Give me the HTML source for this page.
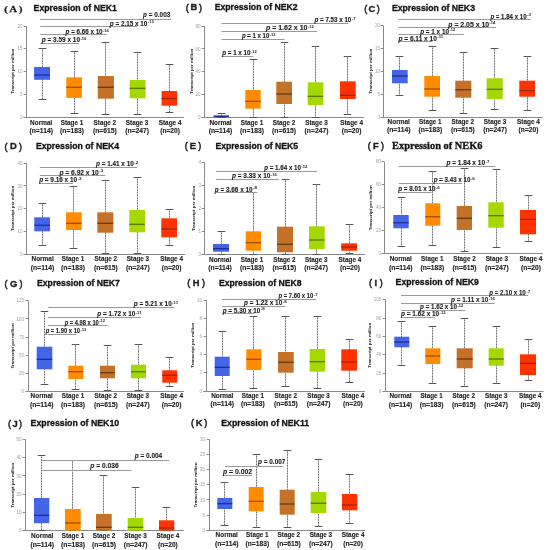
<!DOCTYPE html>
<html><head><meta charset="utf-8"><style>
html,body{margin:0;padding:0;background:#fff;}
body{width:549px;height:550px;overflow:hidden;}
svg{display:block;will-change:transform;filter:blur(0.3px);}
</style></head><body>
<svg width="549" height="550" viewBox="0 0 549 550">
<rect width="549" height="550" fill="#fff"/>
<text x="4.2" y="11.9" font-family='"Liberation Serif", serif' font-weight="bold" font-size="9" textLength="18.3" lengthAdjust="spacingAndGlyphs" fill="#1e1e1e" stroke="#1e1e1e" stroke-width="0.3">( A )</text>
<text x="33.6" y="10.8" font-family='"Liberation Sans", sans-serif' font-weight="bold" font-size="9.5" textLength="83.3" lengthAdjust="spacingAndGlyphs" fill="#111" stroke="#111" stroke-width="0.32">Expression of NEK1</text>
<line x1="26.5" y1="26.1" x2="26.5" y2="117.5" stroke="#8a8a8a" stroke-width="1"/>
<line x1="23.7" y1="117.5" x2="26.5" y2="117.5" stroke="#8a8a8a" stroke-width="1"/>
<text x="22.4" y="118.7" text-anchor="end" font-family='"Liberation Sans", sans-serif' font-size="4.5" fill="#a0a0a0">0</text>
<line x1="23.7" y1="94.5" x2="26.5" y2="94.5" stroke="#8a8a8a" stroke-width="1"/>
<text x="22.4" y="95.95" text-anchor="end" font-family='"Liberation Sans", sans-serif' font-size="4.5" fill="#a0a0a0">5</text>
<line x1="23.7" y1="71.5" x2="26.5" y2="71.5" stroke="#8a8a8a" stroke-width="1"/>
<text x="22.4" y="73.2" text-anchor="end" font-family='"Liberation Sans", sans-serif' font-size="4.5" fill="#a0a0a0">10</text>
<line x1="23.7" y1="48.5" x2="26.5" y2="48.5" stroke="#8a8a8a" stroke-width="1"/>
<text x="22.4" y="50.45" text-anchor="end" font-family='"Liberation Sans", sans-serif' font-size="4.5" fill="#a0a0a0">15</text>
<line x1="23.7" y1="26.5" x2="26.5" y2="26.5" stroke="#8a8a8a" stroke-width="1"/>
<text x="22.4" y="27.7" text-anchor="end" font-family='"Liberation Sans", sans-serif' font-size="4.5" fill="#a0a0a0">20</text>
<text transform="translate(14,71.2) rotate(-90)" text-anchor="middle" font-family='"Liberation Sans", sans-serif' font-weight="bold" font-size="4.4" textLength="45" lengthAdjust="spacingAndGlyphs" fill="#2a2a2a">Transcript per million</text>
<line x1="23.5" y1="117.5" x2="184" y2="117.5" stroke="#8a8a8a" stroke-width="1"/>
<line x1="42.5" y1="48.5" x2="42.5" y2="99.5" stroke="#5a5a5a" stroke-width="1" stroke-dasharray="1 0.6"/>
<line x1="38.7" y1="48.5" x2="46.3" y2="48.5" stroke="#555" stroke-width="1"/>
<line x1="38.7" y1="99.5" x2="46.3" y2="99.5" stroke="#555" stroke-width="1"/>
<rect x="34.1" y="67" width="15.9" height="12.8" fill="#4565e8"/>
<line x1="34.1" y1="75" x2="50" y2="75" stroke="#1f2f8f" stroke-width="1.3"/>
<line x1="74.5" y1="51.5" x2="74.5" y2="113.5" stroke="#5a5a5a" stroke-width="1" stroke-dasharray="1 0.6"/>
<line x1="70.7" y1="51.5" x2="78.3" y2="51.5" stroke="#555" stroke-width="1"/>
<line x1="70.7" y1="113.5" x2="78.3" y2="113.5" stroke="#555" stroke-width="1"/>
<rect x="66.3" y="77.3" width="15.6" height="20.6" fill="#ff8c00"/>
<line x1="66.3" y1="87.3" x2="81.9" y2="87.3" stroke="#9a4f00" stroke-width="1.3"/>
<line x1="105.5" y1="42.5" x2="105.5" y2="114.5" stroke="#5a5a5a" stroke-width="1" stroke-dasharray="1 0.6"/>
<line x1="101.7" y1="42.5" x2="109.3" y2="42.5" stroke="#555" stroke-width="1"/>
<line x1="101.7" y1="114.5" x2="109.3" y2="114.5" stroke="#555" stroke-width="1"/>
<rect x="97.8" y="76" width="16.1" height="22.7" fill="#c4722a"/>
<line x1="97.8" y1="87.3" x2="113.9" y2="87.3" stroke="#6a3810" stroke-width="1.3"/>
<line x1="137.5" y1="52.5" x2="137.5" y2="114.5" stroke="#5a5a5a" stroke-width="1" stroke-dasharray="1 0.6"/>
<line x1="133.7" y1="52.5" x2="141.3" y2="52.5" stroke="#555" stroke-width="1"/>
<line x1="133.7" y1="114.5" x2="141.3" y2="114.5" stroke="#555" stroke-width="1"/>
<rect x="129.7" y="80" width="15.9" height="18.3" fill="#a4d800"/>
<line x1="129.7" y1="88.3" x2="145.6" y2="88.3" stroke="#587800" stroke-width="1.3"/>
<line x1="169.5" y1="64.5" x2="169.5" y2="112.5" stroke="#5a5a5a" stroke-width="1" stroke-dasharray="1 0.6"/>
<line x1="165.7" y1="64.5" x2="173.3" y2="64.5" stroke="#555" stroke-width="1"/>
<line x1="165.7" y1="112.5" x2="173.3" y2="112.5" stroke="#555" stroke-width="1"/>
<rect x="161.6" y="91" width="15.6" height="14.7" fill="#ff3300"/>
<line x1="161.6" y1="98.5" x2="177.2" y2="98.5" stroke="#a02400" stroke-width="1.3"/>
<text x="30.1" y="124.6" font-family='"Liberation Sans", sans-serif' font-weight="bold" font-size="6.5" textLength="22.2" lengthAdjust="spacingAndGlyphs" fill="#1e1e1e" stroke="#1e1e1e" stroke-width="0.12">Normal</text>
<text x="29.4" y="132.9" font-family='"Liberation Sans", sans-serif' font-weight="bold" font-size="6.5" textLength="23.6" lengthAdjust="spacingAndGlyphs" fill="#1e1e1e" stroke="#1e1e1e" stroke-width="0.12">(n=114)</text>
<text x="60.8" y="124.6" font-family='"Liberation Sans", sans-serif' font-weight="bold" font-size="6.5" textLength="22.4" lengthAdjust="spacingAndGlyphs" fill="#1e1e1e" stroke="#1e1e1e" stroke-width="0.12">Stage 1</text>
<text x="60.1" y="132.9" font-family='"Liberation Sans", sans-serif' font-weight="bold" font-size="6.5" textLength="23.8" lengthAdjust="spacingAndGlyphs" fill="#1e1e1e" stroke="#1e1e1e" stroke-width="0.12">(n=183)</text>
<text x="93.6" y="124.6" font-family='"Liberation Sans", sans-serif' font-weight="bold" font-size="6.5" textLength="22.4" lengthAdjust="spacingAndGlyphs" fill="#1e1e1e" stroke="#1e1e1e" stroke-width="0.12">Stage 2</text>
<text x="92.9" y="132.9" font-family='"Liberation Sans", sans-serif' font-weight="bold" font-size="6.5" textLength="23.8" lengthAdjust="spacingAndGlyphs" fill="#1e1e1e" stroke="#1e1e1e" stroke-width="0.12">(n=615)</text>
<text x="125.85" y="124.6" font-family='"Liberation Sans", sans-serif' font-weight="bold" font-size="6.5" textLength="22.5" lengthAdjust="spacingAndGlyphs" fill="#1e1e1e" stroke="#1e1e1e" stroke-width="0.12">Stage 3</text>
<text x="125.2" y="132.9" font-family='"Liberation Sans", sans-serif' font-weight="bold" font-size="6.5" textLength="23.8" lengthAdjust="spacingAndGlyphs" fill="#1e1e1e" stroke="#1e1e1e" stroke-width="0.12">(n=247)</text>
<text x="158.7" y="124.6" font-family='"Liberation Sans", sans-serif' font-weight="bold" font-size="6.5" textLength="22.8" lengthAdjust="spacingAndGlyphs" fill="#1e1e1e" stroke="#1e1e1e" stroke-width="0.12">Stage 4</text>
<text x="160.2" y="132.9" font-family='"Liberation Sans", sans-serif' font-weight="bold" font-size="6.5" textLength="19.8" lengthAdjust="spacingAndGlyphs" fill="#1e1e1e" stroke="#1e1e1e" stroke-width="0.12">(n=20)</text>
<line x1="40.2" y1="19.5" x2="171" y2="19.5" stroke="#9a9a9a" stroke-width="1"/>
<line x1="40.2" y1="26.5" x2="137.4" y2="26.5" stroke="#9a9a9a" stroke-width="1"/>
<line x1="40.2" y1="34.5" x2="106.5" y2="34.5" stroke="#9a9a9a" stroke-width="1"/>
<line x1="40.4" y1="43.5" x2="79" y2="43.5" stroke="#9a9a9a" stroke-width="1"/>
<text x="143" y="16.8" font-family='"Liberation Sans", sans-serif' font-weight="bold" font-size="7" textLength="27.3" lengthAdjust="spacingAndGlyphs" fill="#1e1e1e" stroke="#1e1e1e" stroke-width="0.12"><tspan font-style="italic">p</tspan> = 0.003</text>
<text x="109.8" y="25.8" font-family='"Liberation Sans", sans-serif' font-weight="bold" font-size="6.4" textLength="37.6" lengthAdjust="spacingAndGlyphs" fill="#1e1e1e" stroke="#1e1e1e" stroke-width="0.12"><tspan font-style="italic">p</tspan> = 2.15 x 10</text>
<text x="147.8" y="23.4" font-family='"Liberation Sans", sans-serif' font-weight="bold" font-size="3.8" textLength="5.9" lengthAdjust="spacingAndGlyphs" fill="#1e1e1e">-13</text>
<text x="65.6" y="33.9" font-family='"Liberation Sans", sans-serif' font-weight="bold" font-size="6.4" textLength="37" lengthAdjust="spacingAndGlyphs" fill="#1e1e1e" stroke="#1e1e1e" stroke-width="0.12"><tspan font-style="italic">p</tspan> = 6.66 x 10</text>
<text x="103" y="31.5" font-family='"Liberation Sans", sans-serif' font-weight="bold" font-size="3.8" textLength="5.9" lengthAdjust="spacingAndGlyphs" fill="#1e1e1e">-16</text>
<text x="41.8" y="42.1" font-family='"Liberation Sans", sans-serif' font-weight="bold" font-size="6.4" textLength="38.2" lengthAdjust="spacingAndGlyphs" fill="#1e1e1e" stroke="#1e1e1e" stroke-width="0.12"><tspan font-style="italic">p</tspan> = 3.59 x 10</text>
<text x="80.4" y="39.7" font-family='"Liberation Sans", sans-serif' font-weight="bold" font-size="3.8" textLength="5.9" lengthAdjust="spacingAndGlyphs" fill="#1e1e1e">-10</text>
<text x="185.8" y="10.7" font-family='"Liberation Sans", sans-serif' font-size="9" fill="#1e1e1e" stroke="#1e1e1e" stroke-width="0.5">(</text>
<text x="202" y="10.7" text-anchor="end" font-family='"Liberation Sans", sans-serif' font-size="9" fill="#1e1e1e" stroke="#1e1e1e" stroke-width="0.5">)</text>
<text x="193.9" y="10.4" text-anchor="middle" font-family='"Liberation Sans", sans-serif' font-weight="bold" font-size="9.4" fill="#1e1e1e" stroke="#1e1e1e" stroke-width="0.35">B</text>
<text x="214.7" y="10.1" font-family='"Liberation Sans", sans-serif' font-weight="bold" font-size="9.5" textLength="82.9" lengthAdjust="spacingAndGlyphs" fill="#111" stroke="#111" stroke-width="0.32">Expression of NEK2</text>
<line x1="204.5" y1="26.22" x2="204.5" y2="117.5" stroke="#8a8a8a" stroke-width="1"/>
<line x1="201.7" y1="117.5" x2="204.5" y2="117.5" stroke="#8a8a8a" stroke-width="1"/>
<text x="200.6" y="118.7" text-anchor="end" font-family='"Liberation Sans", sans-serif' font-size="4.5" fill="#a0a0a0">0</text>
<line x1="201.7" y1="94.5" x2="204.5" y2="94.5" stroke="#8a8a8a" stroke-width="1"/>
<text x="200.6" y="95.98" text-anchor="end" font-family='"Liberation Sans", sans-serif' font-size="4.5" fill="#a0a0a0">20</text>
<line x1="201.7" y1="71.5" x2="204.5" y2="71.5" stroke="#8a8a8a" stroke-width="1"/>
<text x="200.6" y="73.26" text-anchor="end" font-family='"Liberation Sans", sans-serif' font-size="4.5" fill="#a0a0a0">40</text>
<line x1="201.7" y1="48.5" x2="204.5" y2="48.5" stroke="#8a8a8a" stroke-width="1"/>
<text x="200.6" y="50.54" text-anchor="end" font-family='"Liberation Sans", sans-serif' font-size="4.5" fill="#a0a0a0">60</text>
<line x1="201.7" y1="26.5" x2="204.5" y2="26.5" stroke="#8a8a8a" stroke-width="1"/>
<text x="200.6" y="27.82" text-anchor="end" font-family='"Liberation Sans", sans-serif' font-size="4.5" fill="#a0a0a0">80</text>
<text transform="translate(192.6,71.2) rotate(-90)" text-anchor="middle" font-family='"Liberation Sans", sans-serif' font-weight="bold" font-size="4.4" textLength="45" lengthAdjust="spacingAndGlyphs" fill="#2a2a2a">Transcript per million</text>
<line x1="201.5" y1="117.5" x2="364" y2="117.5" stroke="#8a8a8a" stroke-width="1"/>
<line x1="221.5" y1="113.5" x2="221.5" y2="117.5" stroke="#5a5a5a" stroke-width="1" stroke-dasharray="1 0.6"/>
<line x1="217.7" y1="113.5" x2="225.3" y2="113.5" stroke="#555" stroke-width="1"/>
<line x1="217.7" y1="117.5" x2="225.3" y2="117.5" stroke="#555" stroke-width="1"/>
<rect x="213.7" y="115.4" width="15.3" height="1.9" fill="#4565e8"/>
<line x1="213.7" y1="116.4" x2="229" y2="116.4" stroke="#1f2f8f" stroke-width="1.3"/>
<line x1="253.5" y1="59.5" x2="253.5" y2="117.5" stroke="#5a5a5a" stroke-width="1" stroke-dasharray="1 0.6"/>
<line x1="249.7" y1="59.5" x2="257.3" y2="59.5" stroke="#555" stroke-width="1"/>
<line x1="249.7" y1="117.5" x2="257.3" y2="117.5" stroke="#555" stroke-width="1"/>
<rect x="245.3" y="90" width="15.4" height="18.7" fill="#ff8c00"/>
<line x1="245.3" y1="101.3" x2="260.7" y2="101.3" stroke="#9a4f00" stroke-width="1.3"/>
<line x1="284.5" y1="42.5" x2="284.5" y2="117.5" stroke="#5a5a5a" stroke-width="1" stroke-dasharray="1 0.6"/>
<line x1="280.7" y1="42.5" x2="288.3" y2="42.5" stroke="#555" stroke-width="1"/>
<line x1="280.7" y1="117.5" x2="288.3" y2="117.5" stroke="#555" stroke-width="1"/>
<rect x="276.3" y="81.7" width="15.7" height="22.3" fill="#c4722a"/>
<line x1="276.3" y1="94" x2="292" y2="94" stroke="#6a3810" stroke-width="1.3"/>
<line x1="315.5" y1="46.5" x2="315.5" y2="117.5" stroke="#5a5a5a" stroke-width="1" stroke-dasharray="1 0.6"/>
<line x1="311.7" y1="46.5" x2="319.3" y2="46.5" stroke="#555" stroke-width="1"/>
<line x1="311.7" y1="117.5" x2="319.3" y2="117.5" stroke="#555" stroke-width="1"/>
<rect x="307.7" y="82.3" width="15.6" height="22.7" fill="#a4d800"/>
<line x1="307.7" y1="96.3" x2="323.3" y2="96.3" stroke="#587800" stroke-width="1.3"/>
<line x1="347.5" y1="56.5" x2="347.5" y2="114.5" stroke="#5a5a5a" stroke-width="1" stroke-dasharray="1 0.6"/>
<line x1="343.7" y1="56.5" x2="351.3" y2="56.5" stroke="#555" stroke-width="1"/>
<line x1="343.7" y1="114.5" x2="351.3" y2="114.5" stroke="#555" stroke-width="1"/>
<rect x="340" y="81.3" width="15.7" height="17.7" fill="#ff3300"/>
<line x1="340" y1="95.3" x2="355.7" y2="95.3" stroke="#a02400" stroke-width="1.3"/>
<text x="209.4" y="124.5" font-family='"Liberation Sans", sans-serif' font-weight="bold" font-size="6.5" textLength="22.2" lengthAdjust="spacingAndGlyphs" fill="#1e1e1e" stroke="#1e1e1e" stroke-width="0.12">Normal</text>
<text x="208.7" y="132.9" font-family='"Liberation Sans", sans-serif' font-weight="bold" font-size="6.5" textLength="23.6" lengthAdjust="spacingAndGlyphs" fill="#1e1e1e" stroke="#1e1e1e" stroke-width="0.12">(n=114)</text>
<text x="240.8" y="124.5" font-family='"Liberation Sans", sans-serif' font-weight="bold" font-size="6.5" textLength="22.4" lengthAdjust="spacingAndGlyphs" fill="#1e1e1e" stroke="#1e1e1e" stroke-width="0.12">Stage 1</text>
<text x="240.1" y="132.9" font-family='"Liberation Sans", sans-serif' font-weight="bold" font-size="6.5" textLength="23.8" lengthAdjust="spacingAndGlyphs" fill="#1e1e1e" stroke="#1e1e1e" stroke-width="0.12">(n=183)</text>
<text x="272.8" y="124.5" font-family='"Liberation Sans", sans-serif' font-weight="bold" font-size="6.5" textLength="22.4" lengthAdjust="spacingAndGlyphs" fill="#1e1e1e" stroke="#1e1e1e" stroke-width="0.12">Stage 2</text>
<text x="272.1" y="132.9" font-family='"Liberation Sans", sans-serif' font-weight="bold" font-size="6.5" textLength="23.8" lengthAdjust="spacingAndGlyphs" fill="#1e1e1e" stroke="#1e1e1e" stroke-width="0.12">(n=615)</text>
<text x="305.25" y="124.5" font-family='"Liberation Sans", sans-serif' font-weight="bold" font-size="6.5" textLength="22.5" lengthAdjust="spacingAndGlyphs" fill="#1e1e1e" stroke="#1e1e1e" stroke-width="0.12">Stage 3</text>
<text x="304.6" y="132.9" font-family='"Liberation Sans", sans-serif' font-weight="bold" font-size="6.5" textLength="23.8" lengthAdjust="spacingAndGlyphs" fill="#1e1e1e" stroke="#1e1e1e" stroke-width="0.12">(n=247)</text>
<text x="340.2" y="124.5" font-family='"Liberation Sans", sans-serif' font-weight="bold" font-size="6.5" textLength="22.8" lengthAdjust="spacingAndGlyphs" fill="#1e1e1e" stroke="#1e1e1e" stroke-width="0.12">Stage 4</text>
<text x="341.7" y="132.9" font-family='"Liberation Sans", sans-serif' font-weight="bold" font-size="6.5" textLength="19.8" lengthAdjust="spacingAndGlyphs" fill="#1e1e1e" stroke="#1e1e1e" stroke-width="0.12">(n=20)</text>
<line x1="221.5" y1="23.5" x2="348.3" y2="23.5" stroke="#9a9a9a" stroke-width="1"/>
<line x1="221.5" y1="31.5" x2="317.2" y2="31.5" stroke="#9a9a9a" stroke-width="1"/>
<line x1="221.5" y1="39.5" x2="284.7" y2="39.5" stroke="#9a9a9a" stroke-width="1"/>
<line x1="221.5" y1="56.5" x2="253.3" y2="56.5" stroke="#9a9a9a" stroke-width="1"/>
<text x="314.5" y="22" font-family='"Liberation Sans", sans-serif' font-weight="bold" font-size="6.4" textLength="36.8" lengthAdjust="spacingAndGlyphs" fill="#1e1e1e" stroke="#1e1e1e" stroke-width="0.12"><tspan font-style="italic">p</tspan> = 7.53 x 10</text>
<text x="351.7" y="19.6" font-family='"Liberation Sans", sans-serif' font-weight="bold" font-size="3.8" textLength="4" lengthAdjust="spacingAndGlyphs" fill="#1e1e1e">-7</text>
<text x="265.9" y="30" font-family='"Liberation Sans", sans-serif' font-weight="bold" font-size="6.4" textLength="41.6" lengthAdjust="spacingAndGlyphs" fill="#1e1e1e" stroke="#1e1e1e" stroke-width="0.12"><tspan font-style="italic">p</tspan> = 1.62 x 10</text>
<text x="307.9" y="27.6" font-family='"Liberation Sans", sans-serif' font-weight="bold" font-size="3.8" textLength="5.9" lengthAdjust="spacingAndGlyphs" fill="#1e1e1e">-12</text>
<text x="241.9" y="38.1" font-family='"Liberation Sans", sans-serif' font-weight="bold" font-size="6.4" textLength="27.4" lengthAdjust="spacingAndGlyphs" fill="#1e1e1e" stroke="#1e1e1e" stroke-width="0.12"><tspan font-style="italic">p</tspan> = 1 x 10</text>
<text x="269.7" y="35.7" font-family='"Liberation Sans", sans-serif' font-weight="bold" font-size="3.8" textLength="5.9" lengthAdjust="spacingAndGlyphs" fill="#1e1e1e">-12</text>
<text x="222.2" y="55" font-family='"Liberation Sans", sans-serif' font-weight="bold" font-size="6.4" textLength="28.3" lengthAdjust="spacingAndGlyphs" fill="#1e1e1e" stroke="#1e1e1e" stroke-width="0.12"><tspan font-style="italic">p</tspan> = 1 x 10</text>
<text x="250.9" y="52.6" font-family='"Liberation Sans", sans-serif' font-weight="bold" font-size="3.8" textLength="5.9" lengthAdjust="spacingAndGlyphs" fill="#1e1e1e">-12</text>
<text x="364.2" y="11.9" font-family='"Liberation Sans", sans-serif' font-size="9" fill="#1e1e1e" stroke="#1e1e1e" stroke-width="0.5">(</text>
<text x="379.7" y="11.9" text-anchor="end" font-family='"Liberation Sans", sans-serif' font-size="9" fill="#1e1e1e" stroke="#1e1e1e" stroke-width="0.5">)</text>
<text x="371.95" y="11.6" text-anchor="middle" font-family='"Liberation Sans", sans-serif' font-weight="bold" font-size="9.4" fill="#1e1e1e" stroke="#1e1e1e" stroke-width="0.35">C</text>
<text x="391.9" y="11.3" font-family='"Liberation Sans", sans-serif' font-weight="bold" font-size="9.5" textLength="83.1" lengthAdjust="spacingAndGlyphs" fill="#111" stroke="#111" stroke-width="0.32">Expression of NEK3</text>
<line x1="383.5" y1="25.5" x2="383.5" y2="117.5" stroke="#8a8a8a" stroke-width="1"/>
<line x1="380.7" y1="117.5" x2="383.5" y2="117.5" stroke="#8a8a8a" stroke-width="1"/>
<text x="379.9" y="118.7" text-anchor="end" font-family='"Liberation Sans", sans-serif' font-size="4.5" fill="#a0a0a0">0</text>
<line x1="380.7" y1="94.5" x2="383.5" y2="94.5" stroke="#8a8a8a" stroke-width="1"/>
<text x="379.9" y="95.8" text-anchor="end" font-family='"Liberation Sans", sans-serif' font-size="4.5" fill="#a0a0a0">5</text>
<line x1="380.7" y1="71.5" x2="383.5" y2="71.5" stroke="#8a8a8a" stroke-width="1"/>
<text x="379.9" y="72.9" text-anchor="end" font-family='"Liberation Sans", sans-serif' font-size="4.5" fill="#a0a0a0">10</text>
<line x1="380.7" y1="48.5" x2="383.5" y2="48.5" stroke="#8a8a8a" stroke-width="1"/>
<text x="379.9" y="50" text-anchor="end" font-family='"Liberation Sans", sans-serif' font-size="4.5" fill="#a0a0a0">15</text>
<line x1="380.7" y1="25.5" x2="383.5" y2="25.5" stroke="#8a8a8a" stroke-width="1"/>
<text x="379.9" y="27.1" text-anchor="end" font-family='"Liberation Sans", sans-serif' font-size="4.5" fill="#a0a0a0">20</text>
<text transform="translate(372.1,71.2) rotate(-90)" text-anchor="middle" font-family='"Liberation Sans", sans-serif' font-weight="bold" font-size="4.4" textLength="45" lengthAdjust="spacingAndGlyphs" fill="#2a2a2a">Transcript per million</text>
<line x1="380.5" y1="117.5" x2="542.7" y2="117.5" stroke="#8a8a8a" stroke-width="1"/>
<line x1="399.5" y1="56.5" x2="399.5" y2="95.5" stroke="#5a5a5a" stroke-width="1" stroke-dasharray="1 0.6"/>
<line x1="395.7" y1="56.5" x2="403.3" y2="56.5" stroke="#555" stroke-width="1"/>
<line x1="395.7" y1="95.5" x2="403.3" y2="95.5" stroke="#555" stroke-width="1"/>
<rect x="392" y="70" width="15.7" height="13.3" fill="#4565e8"/>
<line x1="392" y1="76" x2="407.7" y2="76" stroke="#1f2f8f" stroke-width="1.3"/>
<line x1="432.5" y1="46.5" x2="432.5" y2="110.5" stroke="#5a5a5a" stroke-width="1" stroke-dasharray="1 0.6"/>
<line x1="428.7" y1="46.5" x2="436.3" y2="46.5" stroke="#555" stroke-width="1"/>
<line x1="428.7" y1="110.5" x2="436.3" y2="110.5" stroke="#555" stroke-width="1"/>
<rect x="424.3" y="76" width="15.7" height="20.7" fill="#ff8c00"/>
<line x1="424.3" y1="89" x2="440" y2="89" stroke="#9a4f00" stroke-width="1.3"/>
<line x1="463.5" y1="52.5" x2="463.5" y2="113.5" stroke="#5a5a5a" stroke-width="1" stroke-dasharray="1 0.6"/>
<line x1="459.7" y1="52.5" x2="467.3" y2="52.5" stroke="#555" stroke-width="1"/>
<line x1="459.7" y1="113.5" x2="467.3" y2="113.5" stroke="#555" stroke-width="1"/>
<rect x="455.3" y="80.7" width="16" height="17" fill="#c4722a"/>
<line x1="455.3" y1="89.7" x2="471.3" y2="89.7" stroke="#6a3810" stroke-width="1.3"/>
<line x1="494.5" y1="48.5" x2="494.5" y2="109.5" stroke="#5a5a5a" stroke-width="1" stroke-dasharray="1 0.6"/>
<line x1="490.7" y1="48.5" x2="498.3" y2="48.5" stroke="#555" stroke-width="1"/>
<line x1="490.7" y1="109.5" x2="498.3" y2="109.5" stroke="#555" stroke-width="1"/>
<rect x="486.7" y="78.3" width="16" height="20.7" fill="#a4d800"/>
<line x1="486.7" y1="89.3" x2="502.7" y2="89.3" stroke="#587800" stroke-width="1.3"/>
<line x1="527.5" y1="56.5" x2="527.5" y2="110.5" stroke="#5a5a5a" stroke-width="1" stroke-dasharray="1 0.6"/>
<line x1="523.7" y1="56.5" x2="531.3" y2="56.5" stroke="#555" stroke-width="1"/>
<line x1="523.7" y1="110.5" x2="531.3" y2="110.5" stroke="#555" stroke-width="1"/>
<rect x="519.3" y="80.7" width="15.7" height="16" fill="#ff3300"/>
<line x1="519.3" y1="90.7" x2="535" y2="90.7" stroke="#a02400" stroke-width="1.3"/>
<text x="387.6" y="124.2" font-family='"Liberation Sans", sans-serif' font-weight="bold" font-size="6.5" textLength="22.2" lengthAdjust="spacingAndGlyphs" fill="#1e1e1e" stroke="#1e1e1e" stroke-width="0.12">Normal</text>
<text x="386.9" y="132.4" font-family='"Liberation Sans", sans-serif' font-weight="bold" font-size="6.5" textLength="23.6" lengthAdjust="spacingAndGlyphs" fill="#1e1e1e" stroke="#1e1e1e" stroke-width="0.12">(n=114)</text>
<text x="419.1" y="124.2" font-family='"Liberation Sans", sans-serif' font-weight="bold" font-size="6.5" textLength="22.4" lengthAdjust="spacingAndGlyphs" fill="#1e1e1e" stroke="#1e1e1e" stroke-width="0.12">Stage 1</text>
<text x="418.4" y="132.4" font-family='"Liberation Sans", sans-serif' font-weight="bold" font-size="6.5" textLength="23.8" lengthAdjust="spacingAndGlyphs" fill="#1e1e1e" stroke="#1e1e1e" stroke-width="0.12">(n=183)</text>
<text x="451.6" y="124.2" font-family='"Liberation Sans", sans-serif' font-weight="bold" font-size="6.5" textLength="22.4" lengthAdjust="spacingAndGlyphs" fill="#1e1e1e" stroke="#1e1e1e" stroke-width="0.12">Stage 2</text>
<text x="450.9" y="132.4" font-family='"Liberation Sans", sans-serif' font-weight="bold" font-size="6.5" textLength="23.8" lengthAdjust="spacingAndGlyphs" fill="#1e1e1e" stroke="#1e1e1e" stroke-width="0.12">(n=615)</text>
<text x="483.85" y="124.2" font-family='"Liberation Sans", sans-serif' font-weight="bold" font-size="6.5" textLength="22.5" lengthAdjust="spacingAndGlyphs" fill="#1e1e1e" stroke="#1e1e1e" stroke-width="0.12">Stage 3</text>
<text x="483.2" y="132.4" font-family='"Liberation Sans", sans-serif' font-weight="bold" font-size="6.5" textLength="23.8" lengthAdjust="spacingAndGlyphs" fill="#1e1e1e" stroke="#1e1e1e" stroke-width="0.12">(n=247)</text>
<text x="517.1" y="124.2" font-family='"Liberation Sans", sans-serif' font-weight="bold" font-size="6.5" textLength="22.8" lengthAdjust="spacingAndGlyphs" fill="#1e1e1e" stroke="#1e1e1e" stroke-width="0.12">Stage 4</text>
<text x="518.6" y="132.4" font-family='"Liberation Sans", sans-serif' font-weight="bold" font-size="6.5" textLength="19.8" lengthAdjust="spacingAndGlyphs" fill="#1e1e1e" stroke="#1e1e1e" stroke-width="0.12">(n=20)</text>
<line x1="398.4" y1="19.5" x2="531" y2="19.5" stroke="#9a9a9a" stroke-width="1"/>
<line x1="398.4" y1="27.5" x2="496" y2="27.5" stroke="#9a9a9a" stroke-width="1"/>
<line x1="398.4" y1="34.5" x2="463.7" y2="34.5" stroke="#9a9a9a" stroke-width="1"/>
<line x1="398.4" y1="41.5" x2="432.4" y2="41.5" stroke="#9a9a9a" stroke-width="1"/>
<text x="490.4" y="18.8" font-family='"Liberation Sans", sans-serif' font-weight="bold" font-size="6.4" textLength="36.2" lengthAdjust="spacingAndGlyphs" fill="#1e1e1e" stroke="#1e1e1e" stroke-width="0.12"><tspan font-style="italic">p</tspan> = 1.84 x 10</text>
<text x="527" y="16.4" font-family='"Liberation Sans", sans-serif' font-weight="bold" font-size="3.8" textLength="4" lengthAdjust="spacingAndGlyphs" fill="#1e1e1e">-3</text>
<text x="448.3" y="26.7" font-family='"Liberation Sans", sans-serif' font-weight="bold" font-size="6.4" textLength="40.8" lengthAdjust="spacingAndGlyphs" fill="#1e1e1e" stroke="#1e1e1e" stroke-width="0.12"><tspan font-style="italic">p</tspan> = 2.05 x 10</text>
<text x="489.5" y="24.3" font-family='"Liberation Sans", sans-serif' font-weight="bold" font-size="3.8" textLength="5.9" lengthAdjust="spacingAndGlyphs" fill="#1e1e1e">-14</text>
<text x="420.2" y="33.7" font-family='"Liberation Sans", sans-serif' font-weight="bold" font-size="6.4" textLength="28.8" lengthAdjust="spacingAndGlyphs" fill="#1e1e1e" stroke="#1e1e1e" stroke-width="0.12"><tspan font-style="italic">p</tspan> = 1 x 10</text>
<text x="449.4" y="31.3" font-family='"Liberation Sans", sans-serif' font-weight="bold" font-size="3.8" textLength="5.9" lengthAdjust="spacingAndGlyphs" fill="#1e1e1e">-12</text>
<text x="398.4" y="40.7" font-family='"Liberation Sans", sans-serif' font-weight="bold" font-size="6.4" textLength="38.5" lengthAdjust="spacingAndGlyphs" fill="#1e1e1e" stroke="#1e1e1e" stroke-width="0.12"><tspan font-style="italic">p</tspan> = 6.11 x 10</text>
<text x="437.3" y="38.3" font-family='"Liberation Sans", sans-serif' font-weight="bold" font-size="3.8" textLength="5.9" lengthAdjust="spacingAndGlyphs" fill="#1e1e1e">-11</text>
<text x="4.6" y="149.6" font-family='"Liberation Sans", sans-serif' font-size="9" fill="#1e1e1e" stroke="#1e1e1e" stroke-width="0.5">(</text>
<text x="22" y="149.6" text-anchor="end" font-family='"Liberation Sans", sans-serif' font-size="9" fill="#1e1e1e" stroke="#1e1e1e" stroke-width="0.5">)</text>
<text x="13.3" y="149.3" text-anchor="middle" font-family='"Liberation Sans", sans-serif' font-weight="bold" font-size="9.4" fill="#1e1e1e" stroke="#1e1e1e" stroke-width="0.35">D</text>
<text x="35.9" y="149" font-family='"Liberation Sans", sans-serif' font-weight="bold" font-size="9.5" textLength="83.3" lengthAdjust="spacingAndGlyphs" fill="#111" stroke="#111" stroke-width="0.32">Expression of NEK4</text>
<line x1="26.5" y1="163.1" x2="26.5" y2="254.5" stroke="#8a8a8a" stroke-width="1"/>
<line x1="23.7" y1="254.5" x2="26.5" y2="254.5" stroke="#8a8a8a" stroke-width="1"/>
<text x="22.4" y="255.9" text-anchor="end" font-family='"Liberation Sans", sans-serif' font-size="4.5" fill="#a0a0a0">0</text>
<line x1="23.7" y1="231.5" x2="26.5" y2="231.5" stroke="#8a8a8a" stroke-width="1"/>
<text x="22.4" y="233.1" text-anchor="end" font-family='"Liberation Sans", sans-serif' font-size="4.5" fill="#a0a0a0">10</text>
<line x1="23.7" y1="208.5" x2="26.5" y2="208.5" stroke="#8a8a8a" stroke-width="1"/>
<text x="22.4" y="210.3" text-anchor="end" font-family='"Liberation Sans", sans-serif' font-size="4.5" fill="#a0a0a0">20</text>
<line x1="23.7" y1="185.5" x2="26.5" y2="185.5" stroke="#8a8a8a" stroke-width="1"/>
<text x="22.4" y="187.5" text-anchor="end" font-family='"Liberation Sans", sans-serif' font-size="4.5" fill="#a0a0a0">30</text>
<line x1="23.7" y1="163.5" x2="26.5" y2="163.5" stroke="#8a8a8a" stroke-width="1"/>
<text x="22.4" y="164.7" text-anchor="end" font-family='"Liberation Sans", sans-serif' font-size="4.5" fill="#a0a0a0">40</text>
<text transform="translate(14,208.4) rotate(-90)" text-anchor="middle" font-family='"Liberation Sans", sans-serif' font-weight="bold" font-size="4.4" textLength="45" lengthAdjust="spacingAndGlyphs" fill="#2a2a2a">Transcript per million</text>
<line x1="23.5" y1="254.5" x2="185" y2="254.5" stroke="#8a8a8a" stroke-width="1"/>
<line x1="42.5" y1="203.5" x2="42.5" y2="245.5" stroke="#5a5a5a" stroke-width="1" stroke-dasharray="1 0.6"/>
<line x1="38.7" y1="203.5" x2="46.3" y2="203.5" stroke="#555" stroke-width="1"/>
<line x1="38.7" y1="245.5" x2="46.3" y2="245.5" stroke="#555" stroke-width="1"/>
<rect x="34.3" y="217.3" width="15.7" height="14" fill="#4565e8"/>
<line x1="34.3" y1="225.3" x2="50" y2="225.3" stroke="#1f2f8f" stroke-width="1.3"/>
<line x1="73.5" y1="186.5" x2="73.5" y2="248.5" stroke="#5a5a5a" stroke-width="1" stroke-dasharray="1 0.6"/>
<line x1="69.7" y1="186.5" x2="77.3" y2="186.5" stroke="#555" stroke-width="1"/>
<line x1="69.7" y1="248.5" x2="77.3" y2="248.5" stroke="#555" stroke-width="1"/>
<rect x="66" y="212.3" width="15.7" height="17.7" fill="#ff8c00"/>
<line x1="66" y1="223.3" x2="81.7" y2="223.3" stroke="#9a4f00" stroke-width="1.3"/>
<line x1="105.5" y1="180.5" x2="105.5" y2="253.5" stroke="#5a5a5a" stroke-width="1" stroke-dasharray="1 0.6"/>
<line x1="101.7" y1="180.5" x2="109.3" y2="180.5" stroke="#555" stroke-width="1"/>
<line x1="101.7" y1="253.5" x2="109.3" y2="253.5" stroke="#555" stroke-width="1"/>
<rect x="97.3" y="212.3" width="16" height="20.4" fill="#c4722a"/>
<line x1="97.3" y1="223.3" x2="113.3" y2="223.3" stroke="#6a3810" stroke-width="1.3"/>
<line x1="137.5" y1="177.5" x2="137.5" y2="253.5" stroke="#5a5a5a" stroke-width="1" stroke-dasharray="1 0.6"/>
<line x1="133.7" y1="177.5" x2="141.3" y2="177.5" stroke="#555" stroke-width="1"/>
<line x1="133.7" y1="253.5" x2="141.3" y2="253.5" stroke="#555" stroke-width="1"/>
<rect x="129.3" y="210" width="15.7" height="22.3" fill="#a4d800"/>
<line x1="129.3" y1="224.3" x2="145" y2="224.3" stroke="#587800" stroke-width="1.3"/>
<line x1="169.5" y1="209.5" x2="169.5" y2="245.5" stroke="#5a5a5a" stroke-width="1" stroke-dasharray="1 0.6"/>
<line x1="165.7" y1="209.5" x2="173.3" y2="209.5" stroke="#555" stroke-width="1"/>
<line x1="165.7" y1="245.5" x2="173.3" y2="245.5" stroke="#555" stroke-width="1"/>
<rect x="161.3" y="218.3" width="15.7" height="19" fill="#ff3300"/>
<line x1="161.3" y1="229" x2="177" y2="229" stroke="#a02400" stroke-width="1.3"/>
<text x="31.5" y="261.3" font-family='"Liberation Sans", sans-serif' font-weight="bold" font-size="6.5" textLength="22.2" lengthAdjust="spacingAndGlyphs" fill="#1e1e1e" stroke="#1e1e1e" stroke-width="0.12">Normal</text>
<text x="30.8" y="269.8" font-family='"Liberation Sans", sans-serif' font-weight="bold" font-size="6.5" textLength="23.6" lengthAdjust="spacingAndGlyphs" fill="#1e1e1e" stroke="#1e1e1e" stroke-width="0.12">(n=114)</text>
<text x="61.8" y="261.3" font-family='"Liberation Sans", sans-serif' font-weight="bold" font-size="6.5" textLength="22.4" lengthAdjust="spacingAndGlyphs" fill="#1e1e1e" stroke="#1e1e1e" stroke-width="0.12">Stage 1</text>
<text x="61.1" y="269.8" font-family='"Liberation Sans", sans-serif' font-weight="bold" font-size="6.5" textLength="23.8" lengthAdjust="spacingAndGlyphs" fill="#1e1e1e" stroke="#1e1e1e" stroke-width="0.12">(n=183)</text>
<text x="94.6" y="261.3" font-family='"Liberation Sans", sans-serif' font-weight="bold" font-size="6.5" textLength="22.4" lengthAdjust="spacingAndGlyphs" fill="#1e1e1e" stroke="#1e1e1e" stroke-width="0.12">Stage 2</text>
<text x="93.9" y="269.8" font-family='"Liberation Sans", sans-serif' font-weight="bold" font-size="6.5" textLength="23.8" lengthAdjust="spacingAndGlyphs" fill="#1e1e1e" stroke="#1e1e1e" stroke-width="0.12">(n=615)</text>
<text x="126.65" y="261.3" font-family='"Liberation Sans", sans-serif' font-weight="bold" font-size="6.5" textLength="22.5" lengthAdjust="spacingAndGlyphs" fill="#1e1e1e" stroke="#1e1e1e" stroke-width="0.12">Stage 3</text>
<text x="126" y="269.8" font-family='"Liberation Sans", sans-serif' font-weight="bold" font-size="6.5" textLength="23.8" lengthAdjust="spacingAndGlyphs" fill="#1e1e1e" stroke="#1e1e1e" stroke-width="0.12">(n=247)</text>
<text x="160.2" y="261.3" font-family='"Liberation Sans", sans-serif' font-weight="bold" font-size="6.5" textLength="22.8" lengthAdjust="spacingAndGlyphs" fill="#1e1e1e" stroke="#1e1e1e" stroke-width="0.12">Stage 4</text>
<text x="161.7" y="269.8" font-family='"Liberation Sans", sans-serif' font-weight="bold" font-size="6.5" textLength="19.8" lengthAdjust="spacingAndGlyphs" fill="#1e1e1e" stroke="#1e1e1e" stroke-width="0.12">(n=20)</text>
<line x1="39.8" y1="167.5" x2="137.1" y2="167.5" stroke="#9a9a9a" stroke-width="1"/>
<line x1="39.8" y1="175.5" x2="105.4" y2="175.5" stroke="#9a9a9a" stroke-width="1"/>
<line x1="39.8" y1="183.5" x2="73" y2="183.5" stroke="#9a9a9a" stroke-width="1"/>
<text x="96" y="166" font-family='"Liberation Sans", sans-serif' font-weight="bold" font-size="6.4" textLength="37.8" lengthAdjust="spacingAndGlyphs" fill="#1e1e1e" stroke="#1e1e1e" stroke-width="0.12"><tspan font-style="italic">p</tspan> = 1.41 x 10</text>
<text x="134.2" y="163.6" font-family='"Liberation Sans", sans-serif' font-weight="bold" font-size="3.8" textLength="4" lengthAdjust="spacingAndGlyphs" fill="#1e1e1e">-2</text>
<text x="59.5" y="174.8" font-family='"Liberation Sans", sans-serif' font-weight="bold" font-size="6.4" textLength="39.3" lengthAdjust="spacingAndGlyphs" fill="#1e1e1e" stroke="#1e1e1e" stroke-width="0.12"><tspan font-style="italic">p</tspan> = 6.92 x 10</text>
<text x="99.2" y="172.4" font-family='"Liberation Sans", sans-serif' font-weight="bold" font-size="3.8" textLength="4" lengthAdjust="spacingAndGlyphs" fill="#1e1e1e">-3</text>
<text x="39.2" y="182.3" font-family='"Liberation Sans", sans-serif' font-weight="bold" font-size="6.4" textLength="37.8" lengthAdjust="spacingAndGlyphs" fill="#1e1e1e" stroke="#1e1e1e" stroke-width="0.12"><tspan font-style="italic">p</tspan> = 9.16 x 10</text>
<text x="77.4" y="179.9" font-family='"Liberation Sans", sans-serif' font-weight="bold" font-size="3.8" textLength="4" lengthAdjust="spacingAndGlyphs" fill="#1e1e1e">-3</text>
<text x="184.7" y="149.3" font-family='"Liberation Sans", sans-serif' font-size="9" fill="#1e1e1e" stroke="#1e1e1e" stroke-width="0.5">(</text>
<text x="201.3" y="149.3" text-anchor="end" font-family='"Liberation Sans", sans-serif' font-size="9" fill="#1e1e1e" stroke="#1e1e1e" stroke-width="0.5">)</text>
<text x="193" y="149" text-anchor="middle" font-family='"Liberation Sans", sans-serif' font-weight="bold" font-size="9.4" fill="#1e1e1e" stroke="#1e1e1e" stroke-width="0.35">E</text>
<text x="215.4" y="148.7" font-family='"Liberation Sans", sans-serif' font-weight="bold" font-size="9.5" textLength="82.6" lengthAdjust="spacingAndGlyphs" fill="#111" stroke="#111" stroke-width="0.32">Expression of NEK5</text>
<line x1="204.5" y1="162.4" x2="204.5" y2="254.5" stroke="#8a8a8a" stroke-width="1"/>
<line x1="201.7" y1="254.5" x2="204.5" y2="254.5" stroke="#8a8a8a" stroke-width="1"/>
<text x="200.9" y="255.6" text-anchor="end" font-family='"Liberation Sans", sans-serif' font-size="4.5" fill="#a0a0a0">0</text>
<line x1="201.7" y1="231.5" x2="204.5" y2="231.5" stroke="#8a8a8a" stroke-width="1"/>
<text x="200.9" y="232.7" text-anchor="end" font-family='"Liberation Sans", sans-serif' font-size="4.5" fill="#a0a0a0">1</text>
<line x1="201.7" y1="208.5" x2="204.5" y2="208.5" stroke="#8a8a8a" stroke-width="1"/>
<text x="200.9" y="209.8" text-anchor="end" font-family='"Liberation Sans", sans-serif' font-size="4.5" fill="#a0a0a0">2</text>
<line x1="201.7" y1="185.5" x2="204.5" y2="185.5" stroke="#8a8a8a" stroke-width="1"/>
<text x="200.9" y="186.9" text-anchor="end" font-family='"Liberation Sans", sans-serif' font-size="4.5" fill="#a0a0a0">3</text>
<line x1="201.7" y1="162.5" x2="204.5" y2="162.5" stroke="#8a8a8a" stroke-width="1"/>
<text x="200.9" y="164" text-anchor="end" font-family='"Liberation Sans", sans-serif' font-size="4.5" fill="#a0a0a0">4</text>
<text transform="translate(195.1,208.4) rotate(-90)" text-anchor="middle" font-family='"Liberation Sans", sans-serif' font-weight="bold" font-size="4.4" textLength="45" lengthAdjust="spacingAndGlyphs" fill="#2a2a2a">Transcript per million</text>
<line x1="201.5" y1="254.5" x2="365" y2="254.5" stroke="#8a8a8a" stroke-width="1"/>
<line x1="221.5" y1="231.5" x2="221.5" y2="254.5" stroke="#5a5a5a" stroke-width="1" stroke-dasharray="1 0.6"/>
<line x1="217.7" y1="231.5" x2="225.3" y2="231.5" stroke="#555" stroke-width="1"/>
<line x1="217.7" y1="254.5" x2="225.3" y2="254.5" stroke="#555" stroke-width="1"/>
<rect x="213" y="244" width="16" height="7.7" fill="#4565e8"/>
<line x1="213" y1="248.7" x2="229" y2="248.7" stroke="#1f2f8f" stroke-width="1.3"/>
<line x1="253.5" y1="192.5" x2="253.5" y2="254.5" stroke="#5a5a5a" stroke-width="1" stroke-dasharray="1 0.6"/>
<line x1="249.7" y1="192.5" x2="257.3" y2="192.5" stroke="#555" stroke-width="1"/>
<line x1="249.7" y1="254.5" x2="257.3" y2="254.5" stroke="#555" stroke-width="1"/>
<rect x="245.7" y="231.3" width="15.3" height="19.4" fill="#ff8c00"/>
<line x1="245.7" y1="242.7" x2="261" y2="242.7" stroke="#9a4f00" stroke-width="1.3"/>
<line x1="285.5" y1="179.5" x2="285.5" y2="254.5" stroke="#5a5a5a" stroke-width="1" stroke-dasharray="1 0.6"/>
<line x1="281.7" y1="179.5" x2="289.3" y2="179.5" stroke="#555" stroke-width="1"/>
<line x1="281.7" y1="254.5" x2="289.3" y2="254.5" stroke="#555" stroke-width="1"/>
<rect x="277" y="226.7" width="16" height="25.6" fill="#c4722a"/>
<line x1="277" y1="244.3" x2="293" y2="244.3" stroke="#6a3810" stroke-width="1.3"/>
<line x1="316.5" y1="184.5" x2="316.5" y2="254.5" stroke="#5a5a5a" stroke-width="1" stroke-dasharray="1 0.6"/>
<line x1="312.7" y1="184.5" x2="320.3" y2="184.5" stroke="#555" stroke-width="1"/>
<line x1="312.7" y1="254.5" x2="320.3" y2="254.5" stroke="#555" stroke-width="1"/>
<rect x="309" y="226.3" width="15.7" height="22.7" fill="#a4d800"/>
<line x1="309" y1="240" x2="324.7" y2="240" stroke="#587800" stroke-width="1.3"/>
<line x1="349.5" y1="224.5" x2="349.5" y2="253.5" stroke="#5a5a5a" stroke-width="1" stroke-dasharray="1 0.6"/>
<line x1="345.7" y1="224.5" x2="353.3" y2="224.5" stroke="#555" stroke-width="1"/>
<line x1="345.7" y1="253.5" x2="353.3" y2="253.5" stroke="#555" stroke-width="1"/>
<rect x="341.3" y="243.3" width="15.7" height="7.4" fill="#ff3300"/>
<line x1="341.3" y1="247" x2="357" y2="247" stroke="#a02400" stroke-width="1.3"/>
<text x="209" y="261.8" font-family='"Liberation Sans", sans-serif' font-weight="bold" font-size="6.5" textLength="22.2" lengthAdjust="spacingAndGlyphs" fill="#1e1e1e" stroke="#1e1e1e" stroke-width="0.12">Normal</text>
<text x="208.3" y="270.4" font-family='"Liberation Sans", sans-serif' font-weight="bold" font-size="6.5" textLength="23.6" lengthAdjust="spacingAndGlyphs" fill="#1e1e1e" stroke="#1e1e1e" stroke-width="0.12">(n=114)</text>
<text x="240.8" y="261.8" font-family='"Liberation Sans", sans-serif' font-weight="bold" font-size="6.5" textLength="22.4" lengthAdjust="spacingAndGlyphs" fill="#1e1e1e" stroke="#1e1e1e" stroke-width="0.12">Stage 1</text>
<text x="240.1" y="270.4" font-family='"Liberation Sans", sans-serif' font-weight="bold" font-size="6.5" textLength="23.8" lengthAdjust="spacingAndGlyphs" fill="#1e1e1e" stroke="#1e1e1e" stroke-width="0.12">(n=183)</text>
<text x="273.2" y="261.8" font-family='"Liberation Sans", sans-serif' font-weight="bold" font-size="6.5" textLength="22.4" lengthAdjust="spacingAndGlyphs" fill="#1e1e1e" stroke="#1e1e1e" stroke-width="0.12">Stage 2</text>
<text x="272.5" y="270.4" font-family='"Liberation Sans", sans-serif' font-weight="bold" font-size="6.5" textLength="23.8" lengthAdjust="spacingAndGlyphs" fill="#1e1e1e" stroke="#1e1e1e" stroke-width="0.12">(n=615)</text>
<text x="304.95" y="261.8" font-family='"Liberation Sans", sans-serif' font-weight="bold" font-size="6.5" textLength="22.5" lengthAdjust="spacingAndGlyphs" fill="#1e1e1e" stroke="#1e1e1e" stroke-width="0.12">Stage 3</text>
<text x="304.3" y="270.4" font-family='"Liberation Sans", sans-serif' font-weight="bold" font-size="6.5" textLength="23.8" lengthAdjust="spacingAndGlyphs" fill="#1e1e1e" stroke="#1e1e1e" stroke-width="0.12">(n=247)</text>
<text x="338.6" y="261.8" font-family='"Liberation Sans", sans-serif' font-weight="bold" font-size="6.5" textLength="22.8" lengthAdjust="spacingAndGlyphs" fill="#1e1e1e" stroke="#1e1e1e" stroke-width="0.12">Stage 4</text>
<text x="340.1" y="270.4" font-family='"Liberation Sans", sans-serif' font-weight="bold" font-size="6.5" textLength="19.8" lengthAdjust="spacingAndGlyphs" fill="#1e1e1e" stroke="#1e1e1e" stroke-width="0.12">(n=20)</text>
<line x1="216.1" y1="171.5" x2="317.1" y2="171.5" stroke="#9a9a9a" stroke-width="1"/>
<line x1="216.1" y1="179.5" x2="279" y2="179.5" stroke="#9a9a9a" stroke-width="1"/>
<line x1="216.1" y1="192.5" x2="257" y2="192.5" stroke="#9a9a9a" stroke-width="1"/>
<text x="264.2" y="170" font-family='"Liberation Sans", sans-serif' font-weight="bold" font-size="6.4" textLength="36.8" lengthAdjust="spacingAndGlyphs" fill="#1e1e1e" stroke="#1e1e1e" stroke-width="0.12"><tspan font-style="italic">p</tspan> = 1.64 x 10</text>
<text x="301.4" y="167.6" font-family='"Liberation Sans", sans-serif' font-weight="bold" font-size="3.8" textLength="5.9" lengthAdjust="spacingAndGlyphs" fill="#1e1e1e">-12</text>
<text x="231.9" y="178" font-family='"Liberation Sans", sans-serif' font-weight="bold" font-size="6.4" textLength="38.5" lengthAdjust="spacingAndGlyphs" fill="#1e1e1e" stroke="#1e1e1e" stroke-width="0.12"><tspan font-style="italic">p</tspan> = 3.33 x 10</text>
<text x="270.8" y="175.6" font-family='"Liberation Sans", sans-serif' font-weight="bold" font-size="3.8" textLength="5.9" lengthAdjust="spacingAndGlyphs" fill="#1e1e1e">-16</text>
<text x="214.8" y="191.6" font-family='"Liberation Sans", sans-serif' font-weight="bold" font-size="6.4" textLength="37.8" lengthAdjust="spacingAndGlyphs" fill="#1e1e1e" stroke="#1e1e1e" stroke-width="0.12"><tspan font-style="italic">p</tspan> = 3.66 x 10</text>
<text x="253" y="189.2" font-family='"Liberation Sans", sans-serif' font-weight="bold" font-size="3.8" textLength="4" lengthAdjust="spacingAndGlyphs" fill="#1e1e1e">-8</text>
<text x="367.8" y="148.9" font-family='"Liberation Sans", sans-serif' font-size="9" fill="#1e1e1e" stroke="#1e1e1e" stroke-width="0.5">(</text>
<text x="384" y="148.9" text-anchor="end" font-family='"Liberation Sans", sans-serif' font-size="9" fill="#1e1e1e" stroke="#1e1e1e" stroke-width="0.5">)</text>
<text x="375.9" y="148.6" text-anchor="middle" font-family='"Liberation Sans", sans-serif' font-weight="bold" font-size="9.4" fill="#1e1e1e" stroke="#1e1e1e" stroke-width="0.35">F</text>
<text x="392.1" y="148.8" font-family='"Liberation Serif", serif' font-weight="bold" font-size="10.8" textLength="90.3" lengthAdjust="spacingAndGlyphs" fill="#111" stroke="#111" stroke-width="0.32">Expression of NEK6</text>
<line x1="384.5" y1="161.8" x2="384.5" y2="253.5" stroke="#8a8a8a" stroke-width="1"/>
<line x1="381.7" y1="253.5" x2="384.5" y2="253.5" stroke="#8a8a8a" stroke-width="1"/>
<text x="380.9" y="255" text-anchor="end" font-family='"Liberation Sans", sans-serif' font-size="4.5" fill="#a0a0a0">0</text>
<line x1="381.7" y1="230.5" x2="384.5" y2="230.5" stroke="#8a8a8a" stroke-width="1"/>
<text x="380.9" y="232.1" text-anchor="end" font-family='"Liberation Sans", sans-serif' font-size="4.5" fill="#a0a0a0">20</text>
<line x1="381.7" y1="207.5" x2="384.5" y2="207.5" stroke="#8a8a8a" stroke-width="1"/>
<text x="380.9" y="209.2" text-anchor="end" font-family='"Liberation Sans", sans-serif' font-size="4.5" fill="#a0a0a0">40</text>
<line x1="381.7" y1="184.5" x2="384.5" y2="184.5" stroke="#8a8a8a" stroke-width="1"/>
<text x="380.9" y="186.3" text-anchor="end" font-family='"Liberation Sans", sans-serif' font-size="4.5" fill="#a0a0a0">60</text>
<line x1="381.7" y1="161.5" x2="384.5" y2="161.5" stroke="#8a8a8a" stroke-width="1"/>
<text x="380.9" y="163.4" text-anchor="end" font-family='"Liberation Sans", sans-serif' font-size="4.5" fill="#a0a0a0">80</text>
<text transform="translate(372.3,207.8) rotate(-90)" text-anchor="middle" font-family='"Liberation Sans", sans-serif' font-weight="bold" font-size="4.4" textLength="45" lengthAdjust="spacingAndGlyphs" fill="#2a2a2a">Transcript per million</text>
<line x1="381.5" y1="253.5" x2="543" y2="253.5" stroke="#8a8a8a" stroke-width="1"/>
<line x1="401.5" y1="197.5" x2="401.5" y2="246.5" stroke="#5a5a5a" stroke-width="1" stroke-dasharray="1 0.6"/>
<line x1="397.7" y1="197.5" x2="405.3" y2="197.5" stroke="#555" stroke-width="1"/>
<line x1="397.7" y1="246.5" x2="405.3" y2="246.5" stroke="#555" stroke-width="1"/>
<rect x="393.3" y="215" width="15.4" height="13.3" fill="#4565e8"/>
<line x1="393.3" y1="222.7" x2="408.7" y2="222.7" stroke="#1f2f8f" stroke-width="1.3"/>
<line x1="432.5" y1="171.5" x2="432.5" y2="245.5" stroke="#5a5a5a" stroke-width="1" stroke-dasharray="1 0.6"/>
<line x1="428.7" y1="171.5" x2="436.3" y2="171.5" stroke="#555" stroke-width="1"/>
<line x1="428.7" y1="245.5" x2="436.3" y2="245.5" stroke="#555" stroke-width="1"/>
<rect x="425.3" y="203.3" width="15" height="22.4" fill="#ff8c00"/>
<line x1="425.3" y1="216.7" x2="440.3" y2="216.7" stroke="#9a4f00" stroke-width="1.3"/>
<line x1="464.5" y1="168.5" x2="464.5" y2="251.5" stroke="#5a5a5a" stroke-width="1" stroke-dasharray="1 0.6"/>
<line x1="460.7" y1="168.5" x2="468.3" y2="168.5" stroke="#555" stroke-width="1"/>
<line x1="460.7" y1="251.5" x2="468.3" y2="251.5" stroke="#555" stroke-width="1"/>
<rect x="456.7" y="206" width="15.3" height="24" fill="#c4722a"/>
<line x1="456.7" y1="218.3" x2="472" y2="218.3" stroke="#6a3810" stroke-width="1.3"/>
<line x1="496.5" y1="169.5" x2="496.5" y2="247.5" stroke="#5a5a5a" stroke-width="1" stroke-dasharray="1 0.6"/>
<line x1="492.7" y1="169.5" x2="500.3" y2="169.5" stroke="#555" stroke-width="1"/>
<line x1="492.7" y1="247.5" x2="500.3" y2="247.5" stroke="#555" stroke-width="1"/>
<rect x="488.3" y="202.3" width="15.4" height="25.4" fill="#a4d800"/>
<line x1="488.3" y1="215.7" x2="503.7" y2="215.7" stroke="#587800" stroke-width="1.3"/>
<line x1="528.5" y1="195.5" x2="528.5" y2="241.5" stroke="#5a5a5a" stroke-width="1" stroke-dasharray="1 0.6"/>
<line x1="524.7" y1="195.5" x2="532.3" y2="195.5" stroke="#555" stroke-width="1"/>
<line x1="524.7" y1="241.5" x2="532.3" y2="241.5" stroke="#555" stroke-width="1"/>
<rect x="520" y="210" width="16" height="24.3" fill="#ff3300"/>
<line x1="520" y1="219.3" x2="536" y2="219.3" stroke="#a02400" stroke-width="1.3"/>
<text x="389.7" y="261.3" font-family='"Liberation Sans", sans-serif' font-weight="bold" font-size="6.5" textLength="22.2" lengthAdjust="spacingAndGlyphs" fill="#1e1e1e" stroke="#1e1e1e" stroke-width="0.12">Normal</text>
<text x="389" y="269.8" font-family='"Liberation Sans", sans-serif' font-weight="bold" font-size="6.5" textLength="23.6" lengthAdjust="spacingAndGlyphs" fill="#1e1e1e" stroke="#1e1e1e" stroke-width="0.12">(n=114)</text>
<text x="421.1" y="261.3" font-family='"Liberation Sans", sans-serif' font-weight="bold" font-size="6.5" textLength="22.4" lengthAdjust="spacingAndGlyphs" fill="#1e1e1e" stroke="#1e1e1e" stroke-width="0.12">Stage 1</text>
<text x="420.4" y="269.8" font-family='"Liberation Sans", sans-serif' font-weight="bold" font-size="6.5" textLength="23.8" lengthAdjust="spacingAndGlyphs" fill="#1e1e1e" stroke="#1e1e1e" stroke-width="0.12">(n=183)</text>
<text x="453.3" y="261.3" font-family='"Liberation Sans", sans-serif' font-weight="bold" font-size="6.5" textLength="22.4" lengthAdjust="spacingAndGlyphs" fill="#1e1e1e" stroke="#1e1e1e" stroke-width="0.12">Stage 2</text>
<text x="452.6" y="269.8" font-family='"Liberation Sans", sans-serif' font-weight="bold" font-size="6.5" textLength="23.8" lengthAdjust="spacingAndGlyphs" fill="#1e1e1e" stroke="#1e1e1e" stroke-width="0.12">(n=615)</text>
<text x="485.65" y="261.3" font-family='"Liberation Sans", sans-serif' font-weight="bold" font-size="6.5" textLength="22.5" lengthAdjust="spacingAndGlyphs" fill="#1e1e1e" stroke="#1e1e1e" stroke-width="0.12">Stage 3</text>
<text x="485" y="269.8" font-family='"Liberation Sans", sans-serif' font-weight="bold" font-size="6.5" textLength="23.8" lengthAdjust="spacingAndGlyphs" fill="#1e1e1e" stroke="#1e1e1e" stroke-width="0.12">(n=247)</text>
<text x="519.6" y="261.3" font-family='"Liberation Sans", sans-serif' font-weight="bold" font-size="6.5" textLength="22.8" lengthAdjust="spacingAndGlyphs" fill="#1e1e1e" stroke="#1e1e1e" stroke-width="0.12">Stage 4</text>
<text x="521.1" y="269.8" font-family='"Liberation Sans", sans-serif' font-weight="bold" font-size="6.5" textLength="19.8" lengthAdjust="spacingAndGlyphs" fill="#1e1e1e" stroke="#1e1e1e" stroke-width="0.12">(n=20)</text>
<line x1="398.7" y1="166.5" x2="495.4" y2="166.5" stroke="#9a9a9a" stroke-width="1"/>
<line x1="398.7" y1="183.5" x2="462.1" y2="183.5" stroke="#9a9a9a" stroke-width="1"/>
<line x1="398.7" y1="192.5" x2="431.5" y2="192.5" stroke="#9a9a9a" stroke-width="1"/>
<text x="446.4" y="165.4" font-family='"Liberation Sans", sans-serif' font-weight="bold" font-size="6.4" textLength="38.7" lengthAdjust="spacingAndGlyphs" fill="#1e1e1e" stroke="#1e1e1e" stroke-width="0.12"><tspan font-style="italic">p</tspan> = 1.84 x 10</text>
<text x="485.5" y="163" font-family='"Liberation Sans", sans-serif' font-weight="bold" font-size="3.8" textLength="4" lengthAdjust="spacingAndGlyphs" fill="#1e1e1e">-7</text>
<text x="433.7" y="182" font-family='"Liberation Sans", sans-serif' font-weight="bold" font-size="6.4" textLength="36.7" lengthAdjust="spacingAndGlyphs" fill="#1e1e1e" stroke="#1e1e1e" stroke-width="0.12"><tspan font-style="italic">p</tspan> = 3.43 x 10</text>
<text x="470.8" y="179.6" font-family='"Liberation Sans", sans-serif' font-weight="bold" font-size="3.8" textLength="4" lengthAdjust="spacingAndGlyphs" fill="#1e1e1e">-6</text>
<text x="398.3" y="191.2" font-family='"Liberation Sans", sans-serif' font-weight="bold" font-size="6.4" textLength="37.1" lengthAdjust="spacingAndGlyphs" fill="#1e1e1e" stroke="#1e1e1e" stroke-width="0.12"><tspan font-style="italic">p</tspan> = 8.01 x 10</text>
<text x="435.8" y="188.8" font-family='"Liberation Sans", sans-serif' font-weight="bold" font-size="3.8" textLength="4" lengthAdjust="spacingAndGlyphs" fill="#1e1e1e">-6</text>
<text x="4.6" y="287" font-family='"Liberation Sans", sans-serif' font-size="9" fill="#1e1e1e" stroke="#1e1e1e" stroke-width="0.5">(</text>
<text x="22.5" y="287" text-anchor="end" font-family='"Liberation Sans", sans-serif' font-size="9" fill="#1e1e1e" stroke="#1e1e1e" stroke-width="0.5">)</text>
<text x="13.55" y="286.7" text-anchor="middle" font-family='"Liberation Sans", sans-serif' font-weight="bold" font-size="9.4" fill="#1e1e1e" stroke="#1e1e1e" stroke-width="0.35">G</text>
<text x="37" y="286.4" font-family='"Liberation Sans", sans-serif' font-weight="bold" font-size="9.5" textLength="82.9" lengthAdjust="spacingAndGlyphs" fill="#111" stroke="#111" stroke-width="0.32">Expression of NEK7</text>
<line x1="28.5" y1="300.76" x2="28.5" y2="391.5" stroke="#8a8a8a" stroke-width="1"/>
<line x1="25.7" y1="391.5" x2="28.5" y2="391.5" stroke="#8a8a8a" stroke-width="1"/>
<text x="24" y="393.3" text-anchor="end" font-family='"Liberation Sans", sans-serif' font-size="4.5" fill="#a0a0a0">0</text>
<line x1="25.7" y1="373.5" x2="28.5" y2="373.5" stroke="#8a8a8a" stroke-width="1"/>
<text x="24" y="375.11" text-anchor="end" font-family='"Liberation Sans", sans-serif' font-size="4.5" fill="#a0a0a0">25</text>
<line x1="25.7" y1="355.5" x2="28.5" y2="355.5" stroke="#8a8a8a" stroke-width="1"/>
<text x="24" y="356.93" text-anchor="end" font-family='"Liberation Sans", sans-serif' font-size="4.5" fill="#a0a0a0">50</text>
<line x1="25.7" y1="337.5" x2="28.5" y2="337.5" stroke="#8a8a8a" stroke-width="1"/>
<text x="24" y="338.74" text-anchor="end" font-family='"Liberation Sans", sans-serif' font-size="4.5" fill="#a0a0a0">75</text>
<line x1="25.7" y1="318.5" x2="28.5" y2="318.5" stroke="#8a8a8a" stroke-width="1"/>
<text x="24" y="320.55" text-anchor="end" font-family='"Liberation Sans", sans-serif' font-size="4.5" fill="#a0a0a0">100</text>
<line x1="25.7" y1="300.5" x2="28.5" y2="300.5" stroke="#8a8a8a" stroke-width="1"/>
<text x="24" y="302.36" text-anchor="end" font-family='"Liberation Sans", sans-serif' font-size="4.5" fill="#a0a0a0">125</text>
<text transform="translate(14.4,345.9) rotate(-90)" text-anchor="middle" font-family='"Liberation Sans", sans-serif' font-weight="bold" font-size="4.4" textLength="45" lengthAdjust="spacingAndGlyphs" fill="#2a2a2a">Transcript per million</text>
<line x1="25.5" y1="391.5" x2="184" y2="391.5" stroke="#8a8a8a" stroke-width="1"/>
<line x1="44.5" y1="311.5" x2="44.5" y2="384.5" stroke="#5a5a5a" stroke-width="1" stroke-dasharray="1 0.6"/>
<line x1="40.7" y1="311.5" x2="48.3" y2="311.5" stroke="#555" stroke-width="1"/>
<line x1="40.7" y1="384.5" x2="48.3" y2="384.5" stroke="#555" stroke-width="1"/>
<rect x="36.7" y="346.7" width="15.6" height="22.6" fill="#4565e8"/>
<line x1="36.7" y1="359.3" x2="52.3" y2="359.3" stroke="#1f2f8f" stroke-width="1.3"/>
<line x1="75.5" y1="344.5" x2="75.5" y2="389.5" stroke="#5a5a5a" stroke-width="1" stroke-dasharray="1 0.6"/>
<line x1="71.7" y1="344.5" x2="79.3" y2="344.5" stroke="#555" stroke-width="1"/>
<line x1="71.7" y1="389.5" x2="79.3" y2="389.5" stroke="#555" stroke-width="1"/>
<rect x="68.3" y="365.7" width="15" height="13.3" fill="#ff8c00"/>
<line x1="68.3" y1="371.7" x2="83.3" y2="371.7" stroke="#9a4f00" stroke-width="1.3"/>
<line x1="107.5" y1="345.5" x2="107.5" y2="390.5" stroke="#5a5a5a" stroke-width="1" stroke-dasharray="1 0.6"/>
<line x1="103.7" y1="345.5" x2="111.3" y2="345.5" stroke="#555" stroke-width="1"/>
<line x1="103.7" y1="390.5" x2="111.3" y2="390.5" stroke="#555" stroke-width="1"/>
<rect x="100" y="365.7" width="15" height="12.6" fill="#c4722a"/>
<line x1="100" y1="372.7" x2="115" y2="372.7" stroke="#6a3810" stroke-width="1.3"/>
<line x1="138.5" y1="344.5" x2="138.5" y2="390.5" stroke="#5a5a5a" stroke-width="1" stroke-dasharray="1 0.6"/>
<line x1="134.7" y1="344.5" x2="142.3" y2="344.5" stroke="#555" stroke-width="1"/>
<line x1="134.7" y1="390.5" x2="142.3" y2="390.5" stroke="#555" stroke-width="1"/>
<rect x="131" y="364.7" width="15" height="13.6" fill="#a4d800"/>
<line x1="131" y1="371.7" x2="146" y2="371.7" stroke="#587800" stroke-width="1.3"/>
<line x1="169.5" y1="357.5" x2="169.5" y2="386.5" stroke="#5a5a5a" stroke-width="1" stroke-dasharray="1 0.6"/>
<line x1="165.7" y1="357.5" x2="173.3" y2="357.5" stroke="#555" stroke-width="1"/>
<line x1="165.7" y1="386.5" x2="173.3" y2="386.5" stroke="#555" stroke-width="1"/>
<rect x="162.3" y="370.3" width="15" height="12.4" fill="#ff3300"/>
<line x1="162.3" y1="375.3" x2="177.3" y2="375.3" stroke="#a02400" stroke-width="1.3"/>
<text x="30.6" y="398.4" font-family='"Liberation Sans", sans-serif' font-weight="bold" font-size="6.5" textLength="22.2" lengthAdjust="spacingAndGlyphs" fill="#1e1e1e" stroke="#1e1e1e" stroke-width="0.12">Normal</text>
<text x="29.9" y="407" font-family='"Liberation Sans", sans-serif' font-weight="bold" font-size="6.5" textLength="23.6" lengthAdjust="spacingAndGlyphs" fill="#1e1e1e" stroke="#1e1e1e" stroke-width="0.12">(n=114)</text>
<text x="61.8" y="398.4" font-family='"Liberation Sans", sans-serif' font-weight="bold" font-size="6.5" textLength="22.4" lengthAdjust="spacingAndGlyphs" fill="#1e1e1e" stroke="#1e1e1e" stroke-width="0.12">Stage 1</text>
<text x="61.1" y="407" font-family='"Liberation Sans", sans-serif' font-weight="bold" font-size="6.5" textLength="23.8" lengthAdjust="spacingAndGlyphs" fill="#1e1e1e" stroke="#1e1e1e" stroke-width="0.12">(n=183)</text>
<text x="94.6" y="398.4" font-family='"Liberation Sans", sans-serif' font-weight="bold" font-size="6.5" textLength="22.4" lengthAdjust="spacingAndGlyphs" fill="#1e1e1e" stroke="#1e1e1e" stroke-width="0.12">Stage 2</text>
<text x="93.9" y="407" font-family='"Liberation Sans", sans-serif' font-weight="bold" font-size="6.5" textLength="23.8" lengthAdjust="spacingAndGlyphs" fill="#1e1e1e" stroke="#1e1e1e" stroke-width="0.12">(n=615)</text>
<text x="126.65" y="398.4" font-family='"Liberation Sans", sans-serif' font-weight="bold" font-size="6.5" textLength="22.5" lengthAdjust="spacingAndGlyphs" fill="#1e1e1e" stroke="#1e1e1e" stroke-width="0.12">Stage 3</text>
<text x="126" y="407" font-family='"Liberation Sans", sans-serif' font-weight="bold" font-size="6.5" textLength="23.8" lengthAdjust="spacingAndGlyphs" fill="#1e1e1e" stroke="#1e1e1e" stroke-width="0.12">(n=247)</text>
<text x="160.2" y="398.4" font-family='"Liberation Sans", sans-serif' font-weight="bold" font-size="6.5" textLength="22.8" lengthAdjust="spacingAndGlyphs" fill="#1e1e1e" stroke="#1e1e1e" stroke-width="0.12">Stage 4</text>
<text x="161.7" y="407" font-family='"Liberation Sans", sans-serif' font-weight="bold" font-size="6.5" textLength="19.8" lengthAdjust="spacingAndGlyphs" fill="#1e1e1e" stroke="#1e1e1e" stroke-width="0.12">(n=20)</text>
<line x1="47.8" y1="307.5" x2="174.1" y2="307.5" stroke="#9a9a9a" stroke-width="1"/>
<line x1="47.8" y1="317.5" x2="141" y2="317.5" stroke="#9a9a9a" stroke-width="1"/>
<line x1="47.8" y1="325.5" x2="108.2" y2="325.5" stroke="#9a9a9a" stroke-width="1"/>
<line x1="47.8" y1="334.5" x2="76.5" y2="334.5" stroke="#9a9a9a" stroke-width="1"/>
<text x="133.8" y="306.2" font-family='"Liberation Sans", sans-serif' font-weight="bold" font-size="6.4" textLength="37.9" lengthAdjust="spacingAndGlyphs" fill="#1e1e1e" stroke="#1e1e1e" stroke-width="0.12"><tspan font-style="italic">p</tspan> = 5.21 x 10</text>
<text x="172.1" y="303.8" font-family='"Liberation Sans", sans-serif' font-weight="bold" font-size="3.8" textLength="5.9" lengthAdjust="spacingAndGlyphs" fill="#1e1e1e">-11</text>
<text x="97.3" y="316.1" font-family='"Liberation Sans", sans-serif' font-weight="bold" font-size="6.4" textLength="38" lengthAdjust="spacingAndGlyphs" fill="#1e1e1e" stroke="#1e1e1e" stroke-width="0.12"><tspan font-style="italic">p</tspan> = 1.72 x 10</text>
<text x="135.7" y="313.7" font-family='"Liberation Sans", sans-serif' font-weight="bold" font-size="3.8" textLength="5.9" lengthAdjust="spacingAndGlyphs" fill="#1e1e1e">-11</text>
<text x="64.7" y="324.5" font-family='"Liberation Sans", sans-serif' font-weight="bold" font-size="6.4" textLength="34.1" lengthAdjust="spacingAndGlyphs" fill="#1e1e1e" stroke="#1e1e1e" stroke-width="0.12"><tspan font-style="italic">p</tspan> = 4.98 x 10</text>
<text x="99.2" y="322.1" font-family='"Liberation Sans", sans-serif' font-weight="bold" font-size="3.8" textLength="5.9" lengthAdjust="spacingAndGlyphs" fill="#1e1e1e">-12</text>
<text x="45.7" y="333" font-family='"Liberation Sans", sans-serif' font-weight="bold" font-size="6.4" textLength="34.4" lengthAdjust="spacingAndGlyphs" fill="#1e1e1e" stroke="#1e1e1e" stroke-width="0.12"><tspan font-style="italic">p</tspan> = 1.90 x 10</text>
<text x="80.5" y="330.6" font-family='"Liberation Sans", sans-serif' font-weight="bold" font-size="3.8" textLength="5.9" lengthAdjust="spacingAndGlyphs" fill="#1e1e1e">-13</text>
<text x="187.2" y="286.3" font-family='"Liberation Sans", sans-serif' font-size="9" fill="#1e1e1e" stroke="#1e1e1e" stroke-width="0.5">(</text>
<text x="205" y="286.3" text-anchor="end" font-family='"Liberation Sans", sans-serif' font-size="9" fill="#1e1e1e" stroke="#1e1e1e" stroke-width="0.5">)</text>
<text x="196.1" y="286" text-anchor="middle" font-family='"Liberation Sans", sans-serif' font-weight="bold" font-size="9.4" fill="#1e1e1e" stroke="#1e1e1e" stroke-width="0.35">H</text>
<text x="218.9" y="285.7" font-family='"Liberation Sans", sans-serif' font-weight="bold" font-size="9.5" textLength="82.6" lengthAdjust="spacingAndGlyphs" fill="#111" stroke="#111" stroke-width="0.32">Expression of NEK8</text>
<line x1="206.5" y1="300" x2="206.5" y2="391.5" stroke="#8a8a8a" stroke-width="1"/>
<line x1="203.7" y1="391.5" x2="206.5" y2="391.5" stroke="#8a8a8a" stroke-width="1"/>
<text x="202" y="392.6" text-anchor="end" font-family='"Liberation Sans", sans-serif' font-size="4.5" fill="#a0a0a0">0</text>
<line x1="203.7" y1="372.5" x2="206.5" y2="372.5" stroke="#8a8a8a" stroke-width="1"/>
<text x="202" y="374.4" text-anchor="end" font-family='"Liberation Sans", sans-serif' font-size="4.5" fill="#a0a0a0">2</text>
<line x1="203.7" y1="354.5" x2="206.5" y2="354.5" stroke="#8a8a8a" stroke-width="1"/>
<text x="202" y="356.2" text-anchor="end" font-family='"Liberation Sans", sans-serif' font-size="4.5" fill="#a0a0a0">4</text>
<line x1="203.7" y1="336.5" x2="206.5" y2="336.5" stroke="#8a8a8a" stroke-width="1"/>
<text x="202" y="338" text-anchor="end" font-family='"Liberation Sans", sans-serif' font-size="4.5" fill="#a0a0a0">6</text>
<line x1="203.7" y1="318.5" x2="206.5" y2="318.5" stroke="#8a8a8a" stroke-width="1"/>
<text x="202" y="319.8" text-anchor="end" font-family='"Liberation Sans", sans-serif' font-size="4.5" fill="#a0a0a0">8</text>
<line x1="203.7" y1="300.5" x2="206.5" y2="300.5" stroke="#8a8a8a" stroke-width="1"/>
<text x="202" y="301.6" text-anchor="end" font-family='"Liberation Sans", sans-serif' font-size="4.5" fill="#a0a0a0">10</text>
<text transform="translate(194.2,345.2) rotate(-90)" text-anchor="middle" font-family='"Liberation Sans", sans-serif' font-weight="bold" font-size="4.4" textLength="45" lengthAdjust="spacingAndGlyphs" fill="#2a2a2a">Transcript per million</text>
<line x1="203.5" y1="391.5" x2="365" y2="391.5" stroke="#8a8a8a" stroke-width="1"/>
<line x1="222.5" y1="331.5" x2="222.5" y2="389.5" stroke="#5a5a5a" stroke-width="1" stroke-dasharray="1 0.6"/>
<line x1="218.7" y1="331.5" x2="226.3" y2="331.5" stroke="#555" stroke-width="1"/>
<line x1="218.7" y1="389.5" x2="226.3" y2="389.5" stroke="#555" stroke-width="1"/>
<rect x="214.7" y="356.7" width="15" height="19.3" fill="#4565e8"/>
<line x1="214.7" y1="367.3" x2="229.7" y2="367.3" stroke="#1f2f8f" stroke-width="1.3"/>
<line x1="253.5" y1="316.5" x2="253.5" y2="388.5" stroke="#5a5a5a" stroke-width="1" stroke-dasharray="1 0.6"/>
<line x1="249.7" y1="316.5" x2="257.3" y2="316.5" stroke="#555" stroke-width="1"/>
<line x1="249.7" y1="388.5" x2="257.3" y2="388.5" stroke="#555" stroke-width="1"/>
<rect x="246.3" y="349.3" width="15" height="20.7" fill="#ff8c00"/>
<line x1="246.3" y1="359.3" x2="261.3" y2="359.3" stroke="#9a4f00" stroke-width="1.3"/>
<line x1="285.5" y1="316.5" x2="285.5" y2="386.5" stroke="#5a5a5a" stroke-width="1" stroke-dasharray="1 0.6"/>
<line x1="281.7" y1="316.5" x2="289.3" y2="316.5" stroke="#555" stroke-width="1"/>
<line x1="281.7" y1="386.5" x2="289.3" y2="386.5" stroke="#555" stroke-width="1"/>
<rect x="278" y="352" width="15.7" height="20.7" fill="#c4722a"/>
<line x1="278" y1="362.3" x2="293.7" y2="362.3" stroke="#6a3810" stroke-width="1.3"/>
<line x1="317.5" y1="316.5" x2="317.5" y2="388.5" stroke="#5a5a5a" stroke-width="1" stroke-dasharray="1 0.6"/>
<line x1="313.7" y1="316.5" x2="321.3" y2="316.5" stroke="#555" stroke-width="1"/>
<line x1="313.7" y1="388.5" x2="321.3" y2="388.5" stroke="#555" stroke-width="1"/>
<rect x="309.7" y="349" width="15.3" height="22.7" fill="#a4d800"/>
<line x1="309.7" y1="361.7" x2="325" y2="361.7" stroke="#587800" stroke-width="1.3"/>
<line x1="349.5" y1="339.5" x2="349.5" y2="382.5" stroke="#5a5a5a" stroke-width="1" stroke-dasharray="1 0.6"/>
<line x1="345.7" y1="339.5" x2="353.3" y2="339.5" stroke="#555" stroke-width="1"/>
<line x1="345.7" y1="382.5" x2="353.3" y2="382.5" stroke="#555" stroke-width="1"/>
<rect x="341.3" y="349.3" width="15.7" height="21.4" fill="#ff3300"/>
<line x1="341.3" y1="362" x2="357" y2="362" stroke="#a02400" stroke-width="1.3"/>
<text x="211.2" y="397.6" font-family='"Liberation Sans", sans-serif' font-weight="bold" font-size="6.5" textLength="22.2" lengthAdjust="spacingAndGlyphs" fill="#1e1e1e" stroke="#1e1e1e" stroke-width="0.12">Normal</text>
<text x="210.5" y="406.2" font-family='"Liberation Sans", sans-serif' font-weight="bold" font-size="6.5" textLength="23.6" lengthAdjust="spacingAndGlyphs" fill="#1e1e1e" stroke="#1e1e1e" stroke-width="0.12">(n=114)</text>
<text x="241.7" y="397.6" font-family='"Liberation Sans", sans-serif' font-weight="bold" font-size="6.5" textLength="22.4" lengthAdjust="spacingAndGlyphs" fill="#1e1e1e" stroke="#1e1e1e" stroke-width="0.12">Stage 1</text>
<text x="241" y="406.2" font-family='"Liberation Sans", sans-serif' font-weight="bold" font-size="6.5" textLength="23.8" lengthAdjust="spacingAndGlyphs" fill="#1e1e1e" stroke="#1e1e1e" stroke-width="0.12">(n=183)</text>
<text x="274.6" y="397.6" font-family='"Liberation Sans", sans-serif' font-weight="bold" font-size="6.5" textLength="22.4" lengthAdjust="spacingAndGlyphs" fill="#1e1e1e" stroke="#1e1e1e" stroke-width="0.12">Stage 2</text>
<text x="273.9" y="406.2" font-family='"Liberation Sans", sans-serif' font-weight="bold" font-size="6.5" textLength="23.8" lengthAdjust="spacingAndGlyphs" fill="#1e1e1e" stroke="#1e1e1e" stroke-width="0.12">(n=615)</text>
<text x="307.35" y="397.6" font-family='"Liberation Sans", sans-serif' font-weight="bold" font-size="6.5" textLength="22.5" lengthAdjust="spacingAndGlyphs" fill="#1e1e1e" stroke="#1e1e1e" stroke-width="0.12">Stage 3</text>
<text x="306.7" y="406.2" font-family='"Liberation Sans", sans-serif' font-weight="bold" font-size="6.5" textLength="23.8" lengthAdjust="spacingAndGlyphs" fill="#1e1e1e" stroke="#1e1e1e" stroke-width="0.12">(n=247)</text>
<text x="341.5" y="397.6" font-family='"Liberation Sans", sans-serif' font-weight="bold" font-size="6.5" textLength="22.8" lengthAdjust="spacingAndGlyphs" fill="#1e1e1e" stroke="#1e1e1e" stroke-width="0.12">Stage 4</text>
<text x="343" y="406.2" font-family='"Liberation Sans", sans-serif' font-weight="bold" font-size="6.5" textLength="19.8" lengthAdjust="spacingAndGlyphs" fill="#1e1e1e" stroke="#1e1e1e" stroke-width="0.12">(n=20)</text>
<line x1="222" y1="299.5" x2="316" y2="299.5" stroke="#9a9a9a" stroke-width="1"/>
<line x1="222" y1="306.5" x2="285.4" y2="306.5" stroke="#9a9a9a" stroke-width="1"/>
<line x1="222.4" y1="313.5" x2="254" y2="313.5" stroke="#9a9a9a" stroke-width="1"/>
<text x="278.4" y="298.2" font-family='"Liberation Sans", sans-serif' font-weight="bold" font-size="6.4" textLength="34.9" lengthAdjust="spacingAndGlyphs" fill="#1e1e1e" stroke="#1e1e1e" stroke-width="0.12"><tspan font-style="italic">p</tspan> = 7.60 x 10</text>
<text x="313.7" y="295.8" font-family='"Liberation Sans", sans-serif' font-weight="bold" font-size="3.8" textLength="4" lengthAdjust="spacingAndGlyphs" fill="#1e1e1e">-7</text>
<text x="244.1" y="305.2" font-family='"Liberation Sans", sans-serif' font-weight="bold" font-size="6.4" textLength="38.2" lengthAdjust="spacingAndGlyphs" fill="#1e1e1e" stroke="#1e1e1e" stroke-width="0.12"><tspan font-style="italic">p</tspan> = 1.22 x 10</text>
<text x="282.7" y="302.8" font-family='"Liberation Sans", sans-serif' font-weight="bold" font-size="3.8" textLength="4" lengthAdjust="spacingAndGlyphs" fill="#1e1e1e">-8</text>
<text x="222.7" y="312.6" font-family='"Liberation Sans", sans-serif' font-weight="bold" font-size="6.4" textLength="37.7" lengthAdjust="spacingAndGlyphs" fill="#1e1e1e" stroke="#1e1e1e" stroke-width="0.12"><tspan font-style="italic">p</tspan> = 5.30 x 10</text>
<text x="260.8" y="310.2" font-family='"Liberation Sans", sans-serif' font-weight="bold" font-size="3.8" textLength="4" lengthAdjust="spacingAndGlyphs" fill="#1e1e1e">-8</text>
<text x="368.9" y="285.9" font-family='"Liberation Sans", sans-serif' font-size="9" fill="#1e1e1e" stroke="#1e1e1e" stroke-width="0.5">(</text>
<text x="382.8" y="285.9" text-anchor="end" font-family='"Liberation Sans", sans-serif' font-size="9" fill="#1e1e1e" stroke="#1e1e1e" stroke-width="0.5">)</text>
<text x="375.85" y="285.6" text-anchor="middle" font-family='"Liberation Sans", sans-serif' font-weight="bold" font-size="9.4" fill="#1e1e1e" stroke="#1e1e1e" stroke-width="0.35">I</text>
<text x="395.6" y="285.3" font-family='"Liberation Sans", sans-serif' font-weight="bold" font-size="9.5" textLength="83.3" lengthAdjust="spacingAndGlyphs" fill="#111" stroke="#111" stroke-width="0.32">Expression of NEK9</text>
<line x1="385.5" y1="299.7" x2="385.5" y2="391.5" stroke="#8a8a8a" stroke-width="1"/>
<line x1="382.7" y1="391.5" x2="385.5" y2="391.5" stroke="#8a8a8a" stroke-width="1"/>
<text x="381.3" y="393" text-anchor="end" font-family='"Liberation Sans", sans-serif' font-size="4.5" fill="#a0a0a0">0</text>
<line x1="382.7" y1="373.5" x2="385.5" y2="373.5" stroke="#8a8a8a" stroke-width="1"/>
<text x="381.3" y="374.66" text-anchor="end" font-family='"Liberation Sans", sans-serif' font-size="4.5" fill="#a0a0a0">20</text>
<line x1="382.7" y1="354.5" x2="385.5" y2="354.5" stroke="#8a8a8a" stroke-width="1"/>
<text x="381.3" y="356.32" text-anchor="end" font-family='"Liberation Sans", sans-serif' font-size="4.5" fill="#a0a0a0">40</text>
<line x1="382.7" y1="336.5" x2="385.5" y2="336.5" stroke="#8a8a8a" stroke-width="1"/>
<text x="381.3" y="337.98" text-anchor="end" font-family='"Liberation Sans", sans-serif' font-size="4.5" fill="#a0a0a0">60</text>
<line x1="382.7" y1="318.5" x2="385.5" y2="318.5" stroke="#8a8a8a" stroke-width="1"/>
<text x="381.3" y="319.64" text-anchor="end" font-family='"Liberation Sans", sans-serif' font-size="4.5" fill="#a0a0a0">80</text>
<line x1="382.7" y1="299.5" x2="385.5" y2="299.5" stroke="#8a8a8a" stroke-width="1"/>
<text x="381.3" y="301.3" text-anchor="end" font-family='"Liberation Sans", sans-serif' font-size="4.5" fill="#a0a0a0">100</text>
<text transform="translate(370.7,345.3) rotate(-90)" text-anchor="middle" font-family='"Liberation Sans", sans-serif' font-weight="bold" font-size="4.4" textLength="45" lengthAdjust="spacingAndGlyphs" fill="#2a2a2a">Transcript per million</text>
<line x1="382.5" y1="391.5" x2="543.6" y2="391.5" stroke="#8a8a8a" stroke-width="1"/>
<line x1="401.5" y1="321.5" x2="401.5" y2="365.5" stroke="#5a5a5a" stroke-width="1" stroke-dasharray="1 0.6"/>
<line x1="397.7" y1="321.5" x2="405.3" y2="321.5" stroke="#555" stroke-width="1"/>
<line x1="397.7" y1="365.5" x2="405.3" y2="365.5" stroke="#555" stroke-width="1"/>
<rect x="394.3" y="336.7" width="15" height="10.6" fill="#4565e8"/>
<line x1="394.3" y1="342" x2="409.3" y2="342" stroke="#1f2f8f" stroke-width="1.3"/>
<line x1="432.5" y1="326.5" x2="432.5" y2="383.5" stroke="#5a5a5a" stroke-width="1" stroke-dasharray="1 0.6"/>
<line x1="428.7" y1="326.5" x2="436.3" y2="326.5" stroke="#555" stroke-width="1"/>
<line x1="428.7" y1="383.5" x2="436.3" y2="383.5" stroke="#555" stroke-width="1"/>
<rect x="425.3" y="348.3" width="15" height="15.7" fill="#ff8c00"/>
<line x1="425.3" y1="356" x2="440.3" y2="356" stroke="#9a4f00" stroke-width="1.3"/>
<line x1="464.5" y1="318.5" x2="464.5" y2="386.5" stroke="#5a5a5a" stroke-width="1" stroke-dasharray="1 0.6"/>
<line x1="460.7" y1="318.5" x2="468.3" y2="318.5" stroke="#555" stroke-width="1"/>
<line x1="460.7" y1="386.5" x2="468.3" y2="386.5" stroke="#555" stroke-width="1"/>
<rect x="456.7" y="348.3" width="16" height="20" fill="#c4722a"/>
<line x1="456.7" y1="359" x2="472.7" y2="359" stroke="#6a3810" stroke-width="1.3"/>
<line x1="496.5" y1="326.5" x2="496.5" y2="383.5" stroke="#5a5a5a" stroke-width="1" stroke-dasharray="1 0.6"/>
<line x1="492.7" y1="326.5" x2="500.3" y2="326.5" stroke="#555" stroke-width="1"/>
<line x1="492.7" y1="383.5" x2="500.3" y2="383.5" stroke="#555" stroke-width="1"/>
<rect x="488.7" y="348.3" width="15" height="17.4" fill="#a4d800"/>
<line x1="488.7" y1="359" x2="503.7" y2="359" stroke="#587800" stroke-width="1.3"/>
<line x1="528.5" y1="339.5" x2="528.5" y2="380.5" stroke="#5a5a5a" stroke-width="1" stroke-dasharray="1 0.6"/>
<line x1="524.7" y1="339.5" x2="532.3" y2="339.5" stroke="#555" stroke-width="1"/>
<line x1="524.7" y1="380.5" x2="532.3" y2="380.5" stroke="#555" stroke-width="1"/>
<rect x="520" y="354.3" width="16" height="20.7" fill="#ff3300"/>
<line x1="520" y1="363.3" x2="536" y2="363.3" stroke="#a02400" stroke-width="1.3"/>
<text x="389.4" y="398.2" font-family='"Liberation Sans", sans-serif' font-weight="bold" font-size="6.5" textLength="22.2" lengthAdjust="spacingAndGlyphs" fill="#1e1e1e" stroke="#1e1e1e" stroke-width="0.12">Normal</text>
<text x="388.7" y="406.9" font-family='"Liberation Sans", sans-serif' font-weight="bold" font-size="6.5" textLength="23.6" lengthAdjust="spacingAndGlyphs" fill="#1e1e1e" stroke="#1e1e1e" stroke-width="0.12">(n=114)</text>
<text x="420.4" y="398.2" font-family='"Liberation Sans", sans-serif' font-weight="bold" font-size="6.5" textLength="22.4" lengthAdjust="spacingAndGlyphs" fill="#1e1e1e" stroke="#1e1e1e" stroke-width="0.12">Stage 1</text>
<text x="419.7" y="406.9" font-family='"Liberation Sans", sans-serif' font-weight="bold" font-size="6.5" textLength="23.8" lengthAdjust="spacingAndGlyphs" fill="#1e1e1e" stroke="#1e1e1e" stroke-width="0.12">(n=183)</text>
<text x="452.6" y="398.2" font-family='"Liberation Sans", sans-serif' font-weight="bold" font-size="6.5" textLength="22.4" lengthAdjust="spacingAndGlyphs" fill="#1e1e1e" stroke="#1e1e1e" stroke-width="0.12">Stage 2</text>
<text x="451.9" y="406.9" font-family='"Liberation Sans", sans-serif' font-weight="bold" font-size="6.5" textLength="23.8" lengthAdjust="spacingAndGlyphs" fill="#1e1e1e" stroke="#1e1e1e" stroke-width="0.12">(n=615)</text>
<text x="484.95" y="398.2" font-family='"Liberation Sans", sans-serif' font-weight="bold" font-size="6.5" textLength="22.5" lengthAdjust="spacingAndGlyphs" fill="#1e1e1e" stroke="#1e1e1e" stroke-width="0.12">Stage 3</text>
<text x="484.3" y="406.9" font-family='"Liberation Sans", sans-serif' font-weight="bold" font-size="6.5" textLength="23.8" lengthAdjust="spacingAndGlyphs" fill="#1e1e1e" stroke="#1e1e1e" stroke-width="0.12">(n=247)</text>
<text x="518.9" y="398.2" font-family='"Liberation Sans", sans-serif' font-weight="bold" font-size="6.5" textLength="22.8" lengthAdjust="spacingAndGlyphs" fill="#1e1e1e" stroke="#1e1e1e" stroke-width="0.12">Stage 4</text>
<text x="520.4" y="406.9" font-family='"Liberation Sans", sans-serif' font-weight="bold" font-size="6.5" textLength="19.8" lengthAdjust="spacingAndGlyphs" fill="#1e1e1e" stroke="#1e1e1e" stroke-width="0.12">(n=20)</text>
<line x1="401" y1="295.5" x2="528.3" y2="295.5" stroke="#9a9a9a" stroke-width="1"/>
<line x1="401" y1="303.5" x2="494.7" y2="303.5" stroke="#9a9a9a" stroke-width="1"/>
<line x1="401" y1="310.5" x2="465.5" y2="310.5" stroke="#9a9a9a" stroke-width="1"/>
<line x1="401" y1="317.5" x2="434.6" y2="317.5" stroke="#9a9a9a" stroke-width="1"/>
<text x="489.3" y="294.9" font-family='"Liberation Sans", sans-serif' font-weight="bold" font-size="6.4" textLength="36.5" lengthAdjust="spacingAndGlyphs" fill="#1e1e1e" stroke="#1e1e1e" stroke-width="0.12"><tspan font-style="italic">p</tspan> = 2.10 x 10</text>
<text x="526.2" y="292.5" font-family='"Liberation Sans", sans-serif' font-weight="bold" font-size="3.8" textLength="4" lengthAdjust="spacingAndGlyphs" fill="#1e1e1e">-7</text>
<text x="451" y="302.3" font-family='"Liberation Sans", sans-serif' font-weight="bold" font-size="6.4" textLength="37.4" lengthAdjust="spacingAndGlyphs" fill="#1e1e1e" stroke="#1e1e1e" stroke-width="0.12"><tspan font-style="italic">p</tspan> = 1.11 x 10</text>
<text x="488.8" y="299.9" font-family='"Liberation Sans", sans-serif' font-weight="bold" font-size="3.8" textLength="5.9" lengthAdjust="spacingAndGlyphs" fill="#1e1e1e">-16</text>
<text x="420.1" y="309.4" font-family='"Liberation Sans", sans-serif' font-weight="bold" font-size="6.4" textLength="36.9" lengthAdjust="spacingAndGlyphs" fill="#1e1e1e" stroke="#1e1e1e" stroke-width="0.12"><tspan font-style="italic">p</tspan> = 1.62 x 10</text>
<text x="457.4" y="307" font-family='"Liberation Sans", sans-serif' font-weight="bold" font-size="3.8" textLength="5.9" lengthAdjust="spacingAndGlyphs" fill="#1e1e1e">-12</text>
<text x="401" y="316.2" font-family='"Liberation Sans", sans-serif' font-weight="bold" font-size="6.4" textLength="38.2" lengthAdjust="spacingAndGlyphs" fill="#1e1e1e" stroke="#1e1e1e" stroke-width="0.12"><tspan font-style="italic">p</tspan> = 1.62 x 10</text>
<text x="439.6" y="313.8" font-family='"Liberation Sans", sans-serif' font-weight="bold" font-size="3.8" textLength="5.9" lengthAdjust="spacingAndGlyphs" fill="#1e1e1e">-12</text>
<text x="8.1" y="427" font-family='"Liberation Sans", sans-serif' font-size="9" fill="#1e1e1e" stroke="#1e1e1e" stroke-width="0.5">(</text>
<text x="22" y="427" text-anchor="end" font-family='"Liberation Sans", sans-serif' font-size="9" fill="#1e1e1e" stroke="#1e1e1e" stroke-width="0.5">)</text>
<text x="15.05" y="426.7" text-anchor="middle" font-family='"Liberation Sans", sans-serif' font-weight="bold" font-size="9.4" fill="#1e1e1e" stroke="#1e1e1e" stroke-width="0.35">J</text>
<text x="30.6" y="426.4" font-family='"Liberation Sans", sans-serif' font-weight="bold" font-size="9.5" textLength="88.6" lengthAdjust="spacingAndGlyphs" fill="#111" stroke="#111" stroke-width="0.32">Expression of NEK10</text>
<line x1="25.5" y1="439.5" x2="25.5" y2="530.5" stroke="#8a8a8a" stroke-width="1"/>
<line x1="22.7" y1="530.5" x2="25.5" y2="530.5" stroke="#8a8a8a" stroke-width="1"/>
<text x="21.6" y="532.1" text-anchor="end" font-family='"Liberation Sans", sans-serif' font-size="4.5" fill="#a0a0a0">0</text>
<line x1="22.7" y1="512.5" x2="25.5" y2="512.5" stroke="#8a8a8a" stroke-width="1"/>
<text x="21.6" y="513.9" text-anchor="end" font-family='"Liberation Sans", sans-serif' font-size="4.5" fill="#a0a0a0">10</text>
<line x1="22.7" y1="494.5" x2="25.5" y2="494.5" stroke="#8a8a8a" stroke-width="1"/>
<text x="21.6" y="495.7" text-anchor="end" font-family='"Liberation Sans", sans-serif' font-size="4.5" fill="#a0a0a0">20</text>
<line x1="22.7" y1="475.5" x2="25.5" y2="475.5" stroke="#8a8a8a" stroke-width="1"/>
<text x="21.6" y="477.5" text-anchor="end" font-family='"Liberation Sans", sans-serif' font-size="4.5" fill="#a0a0a0">30</text>
<line x1="22.7" y1="457.5" x2="25.5" y2="457.5" stroke="#8a8a8a" stroke-width="1"/>
<text x="21.6" y="459.3" text-anchor="end" font-family='"Liberation Sans", sans-serif' font-size="4.5" fill="#a0a0a0">40</text>
<line x1="22.7" y1="439.5" x2="25.5" y2="439.5" stroke="#8a8a8a" stroke-width="1"/>
<text x="21.6" y="441.1" text-anchor="end" font-family='"Liberation Sans", sans-serif' font-size="4.5" fill="#a0a0a0">50</text>
<text transform="translate(14,485.3) rotate(-90)" text-anchor="middle" font-family='"Liberation Sans", sans-serif' font-weight="bold" font-size="4.4" textLength="45" lengthAdjust="spacingAndGlyphs" fill="#2a2a2a">Transcript per million</text>
<line x1="22.5" y1="530.5" x2="184" y2="530.5" stroke="#8a8a8a" stroke-width="1"/>
<line x1="41.5" y1="455.5" x2="41.5" y2="530.5" stroke="#5a5a5a" stroke-width="1" stroke-dasharray="1 0.6"/>
<line x1="37.7" y1="455.5" x2="45.3" y2="455.5" stroke="#555" stroke-width="1"/>
<line x1="37.7" y1="530.5" x2="45.3" y2="530.5" stroke="#555" stroke-width="1"/>
<rect x="34" y="498" width="15.3" height="25.2" fill="#4565e8"/>
<line x1="34" y1="515.3" x2="49.3" y2="515.3" stroke="#1f2f8f" stroke-width="1.3"/>
<line x1="72.5" y1="460.5" x2="72.5" y2="530.5" stroke="#5a5a5a" stroke-width="1" stroke-dasharray="1 0.6"/>
<line x1="68.7" y1="460.5" x2="76.3" y2="460.5" stroke="#555" stroke-width="1"/>
<line x1="68.7" y1="530.5" x2="76.3" y2="530.5" stroke="#555" stroke-width="1"/>
<rect x="65" y="509" width="15.7" height="21.7" fill="#ff8c00"/>
<line x1="65" y1="523" x2="80.7" y2="523" stroke="#9a4f00" stroke-width="1.3"/>
<line x1="103.5" y1="475.5" x2="103.5" y2="530.5" stroke="#5a5a5a" stroke-width="1" stroke-dasharray="1 0.6"/>
<line x1="99.7" y1="475.5" x2="107.3" y2="475.5" stroke="#555" stroke-width="1"/>
<line x1="99.7" y1="530.5" x2="107.3" y2="530.5" stroke="#555" stroke-width="1"/>
<rect x="96" y="514" width="15.7" height="16.7" fill="#c4722a"/>
<line x1="96" y1="527.3" x2="111.7" y2="527.3" stroke="#6a3810" stroke-width="1.3"/>
<line x1="135.5" y1="487.5" x2="135.5" y2="530.5" stroke="#5a5a5a" stroke-width="1" stroke-dasharray="1 0.6"/>
<line x1="131.7" y1="487.5" x2="139.3" y2="487.5" stroke="#555" stroke-width="1"/>
<line x1="131.7" y1="530.5" x2="139.3" y2="530.5" stroke="#555" stroke-width="1"/>
<rect x="127.7" y="518" width="15.6" height="12.7" fill="#a4d800"/>
<line x1="127.7" y1="527.3" x2="143.3" y2="527.3" stroke="#587800" stroke-width="1.3"/>
<line x1="166.5" y1="507.5" x2="166.5" y2="530.5" stroke="#5a5a5a" stroke-width="1" stroke-dasharray="1 0.6"/>
<line x1="162.7" y1="507.5" x2="170.3" y2="507.5" stroke="#555" stroke-width="1"/>
<line x1="162.7" y1="530.5" x2="170.3" y2="530.5" stroke="#555" stroke-width="1"/>
<rect x="159" y="520.3" width="15.3" height="10.4" fill="#ff3300"/>
<line x1="159" y1="528" x2="174.3" y2="528" stroke="#a02400" stroke-width="1.3"/>
<text x="31.1" y="538.2" font-family='"Liberation Sans", sans-serif' font-weight="bold" font-size="6.5" textLength="22.2" lengthAdjust="spacingAndGlyphs" fill="#1e1e1e" stroke="#1e1e1e" stroke-width="0.12">Normal</text>
<text x="30.4" y="547" font-family='"Liberation Sans", sans-serif' font-weight="bold" font-size="6.5" textLength="23.6" lengthAdjust="spacingAndGlyphs" fill="#1e1e1e" stroke="#1e1e1e" stroke-width="0.12">(n=114)</text>
<text x="61.8" y="538.2" font-family='"Liberation Sans", sans-serif' font-weight="bold" font-size="6.5" textLength="22.4" lengthAdjust="spacingAndGlyphs" fill="#1e1e1e" stroke="#1e1e1e" stroke-width="0.12">Stage 1</text>
<text x="61.1" y="547" font-family='"Liberation Sans", sans-serif' font-weight="bold" font-size="6.5" textLength="23.8" lengthAdjust="spacingAndGlyphs" fill="#1e1e1e" stroke="#1e1e1e" stroke-width="0.12">(n=183)</text>
<text x="92.8" y="538.2" font-family='"Liberation Sans", sans-serif' font-weight="bold" font-size="6.5" textLength="22.4" lengthAdjust="spacingAndGlyphs" fill="#1e1e1e" stroke="#1e1e1e" stroke-width="0.12">Stage 2</text>
<text x="92.1" y="547" font-family='"Liberation Sans", sans-serif' font-weight="bold" font-size="6.5" textLength="23.8" lengthAdjust="spacingAndGlyphs" fill="#1e1e1e" stroke="#1e1e1e" stroke-width="0.12">(n=615)</text>
<text x="124.35" y="538.2" font-family='"Liberation Sans", sans-serif' font-weight="bold" font-size="6.5" textLength="22.5" lengthAdjust="spacingAndGlyphs" fill="#1e1e1e" stroke="#1e1e1e" stroke-width="0.12">Stage 3</text>
<text x="123.7" y="547" font-family='"Liberation Sans", sans-serif' font-weight="bold" font-size="6.5" textLength="23.8" lengthAdjust="spacingAndGlyphs" fill="#1e1e1e" stroke="#1e1e1e" stroke-width="0.12">(n=247)</text>
<text x="156.5" y="538.2" font-family='"Liberation Sans", sans-serif' font-weight="bold" font-size="6.5" textLength="22.8" lengthAdjust="spacingAndGlyphs" fill="#1e1e1e" stroke="#1e1e1e" stroke-width="0.12">Stage 4</text>
<text x="158" y="547" font-family='"Liberation Sans", sans-serif' font-weight="bold" font-size="6.5" textLength="19.8" lengthAdjust="spacingAndGlyphs" fill="#1e1e1e" stroke="#1e1e1e" stroke-width="0.12">(n=20)</text>
<line x1="41.7" y1="460.5" x2="169" y2="460.5" stroke="#9a9a9a" stroke-width="1"/>
<line x1="41.7" y1="470.5" x2="131.5" y2="470.5" stroke="#9a9a9a" stroke-width="1"/>
<text x="134.7" y="458.2" font-family='"Liberation Sans", sans-serif' font-weight="bold" font-size="7" textLength="27.5" lengthAdjust="spacingAndGlyphs" fill="#1e1e1e" stroke="#1e1e1e" stroke-width="0.12"><tspan font-style="italic">p</tspan> = 0.004</text>
<text x="90.3" y="468.2" font-family='"Liberation Sans", sans-serif' font-weight="bold" font-size="7" textLength="28.3" lengthAdjust="spacingAndGlyphs" fill="#1e1e1e" stroke="#1e1e1e" stroke-width="0.12"><tspan font-style="italic">p</tspan> = 0.036</text>
<text x="191.1" y="426.3" font-family='"Liberation Sans", sans-serif' font-size="9" fill="#1e1e1e" stroke="#1e1e1e" stroke-width="0.5">(</text>
<text x="207.3" y="426.3" text-anchor="end" font-family='"Liberation Sans", sans-serif' font-size="9" fill="#1e1e1e" stroke="#1e1e1e" stroke-width="0.5">)</text>
<text x="199.2" y="426" text-anchor="middle" font-family='"Liberation Sans", sans-serif' font-weight="bold" font-size="9.4" fill="#1e1e1e" stroke="#1e1e1e" stroke-width="0.35">K</text>
<text x="221.2" y="425.7" font-family='"Liberation Sans", sans-serif' font-weight="bold" font-size="9.5" textLength="88" lengthAdjust="spacingAndGlyphs" fill="#111" stroke="#111" stroke-width="0.32">Expression of NEK11</text>
<line x1="209.5" y1="439.5" x2="209.5" y2="530.5" stroke="#8a8a8a" stroke-width="1"/>
<line x1="206.7" y1="530.5" x2="209.5" y2="530.5" stroke="#8a8a8a" stroke-width="1"/>
<text x="205.1" y="531.7" text-anchor="end" font-family='"Liberation Sans", sans-serif' font-size="4.5" fill="#a0a0a0">0</text>
<line x1="206.7" y1="515.5" x2="209.5" y2="515.5" stroke="#8a8a8a" stroke-width="1"/>
<text x="205.1" y="516.6" text-anchor="end" font-family='"Liberation Sans", sans-serif' font-size="4.5" fill="#a0a0a0">5</text>
<line x1="206.7" y1="499.5" x2="209.5" y2="499.5" stroke="#8a8a8a" stroke-width="1"/>
<text x="205.1" y="501.5" text-anchor="end" font-family='"Liberation Sans", sans-serif' font-size="4.5" fill="#a0a0a0">10</text>
<line x1="206.7" y1="484.5" x2="209.5" y2="484.5" stroke="#8a8a8a" stroke-width="1"/>
<text x="205.1" y="486.4" text-anchor="end" font-family='"Liberation Sans", sans-serif' font-size="4.5" fill="#a0a0a0">15</text>
<line x1="206.7" y1="469.5" x2="209.5" y2="469.5" stroke="#8a8a8a" stroke-width="1"/>
<text x="205.1" y="471.3" text-anchor="end" font-family='"Liberation Sans", sans-serif' font-size="4.5" fill="#a0a0a0">20</text>
<line x1="206.7" y1="454.5" x2="209.5" y2="454.5" stroke="#8a8a8a" stroke-width="1"/>
<text x="205.1" y="456.2" text-anchor="end" font-family='"Liberation Sans", sans-serif' font-size="4.5" fill="#a0a0a0">25</text>
<line x1="206.7" y1="439.5" x2="209.5" y2="439.5" stroke="#8a8a8a" stroke-width="1"/>
<text x="205.1" y="441.1" text-anchor="end" font-family='"Liberation Sans", sans-serif' font-size="4.5" fill="#a0a0a0">30</text>
<text transform="translate(197,485) rotate(-90)" text-anchor="middle" font-family='"Liberation Sans", sans-serif' font-weight="bold" font-size="4.4" textLength="45" lengthAdjust="spacingAndGlyphs" fill="#2a2a2a">Transcript per million</text>
<line x1="206.5" y1="530.5" x2="365" y2="530.5" stroke="#8a8a8a" stroke-width="1"/>
<line x1="224.5" y1="482.5" x2="224.5" y2="525.5" stroke="#5a5a5a" stroke-width="1" stroke-dasharray="1 0.6"/>
<line x1="220.7" y1="482.5" x2="228.3" y2="482.5" stroke="#555" stroke-width="1"/>
<line x1="220.7" y1="525.5" x2="228.3" y2="525.5" stroke="#555" stroke-width="1"/>
<rect x="217.3" y="498" width="15" height="11" fill="#4565e8"/>
<line x1="217.3" y1="503.7" x2="232.3" y2="503.7" stroke="#1f2f8f" stroke-width="1.3"/>
<line x1="256.5" y1="454.5" x2="256.5" y2="527.5" stroke="#5a5a5a" stroke-width="1" stroke-dasharray="1 0.6"/>
<line x1="252.7" y1="454.5" x2="260.3" y2="454.5" stroke="#555" stroke-width="1"/>
<line x1="252.7" y1="527.5" x2="260.3" y2="527.5" stroke="#555" stroke-width="1"/>
<rect x="248.7" y="487" width="15" height="24.3" fill="#ff8c00"/>
<line x1="248.7" y1="501.3" x2="263.7" y2="501.3" stroke="#9a4f00" stroke-width="1.3"/>
<line x1="287.5" y1="450.5" x2="287.5" y2="527.5" stroke="#5a5a5a" stroke-width="1" stroke-dasharray="1 0.6"/>
<line x1="283.7" y1="450.5" x2="291.3" y2="450.5" stroke="#555" stroke-width="1"/>
<line x1="283.7" y1="527.5" x2="291.3" y2="527.5" stroke="#555" stroke-width="1"/>
<rect x="279.7" y="489.7" width="15" height="25" fill="#c4722a"/>
<line x1="279.7" y1="504" x2="294.7" y2="504" stroke="#6a3810" stroke-width="1.3"/>
<line x1="318.5" y1="459.5" x2="318.5" y2="526.5" stroke="#5a5a5a" stroke-width="1" stroke-dasharray="1 0.6"/>
<line x1="314.7" y1="459.5" x2="322.3" y2="459.5" stroke="#555" stroke-width="1"/>
<line x1="314.7" y1="526.5" x2="322.3" y2="526.5" stroke="#555" stroke-width="1"/>
<rect x="310.7" y="492" width="15.6" height="21" fill="#a4d800"/>
<line x1="310.7" y1="503.3" x2="326.3" y2="503.3" stroke="#587800" stroke-width="1.3"/>
<line x1="349.5" y1="474.5" x2="349.5" y2="523.5" stroke="#5a5a5a" stroke-width="1" stroke-dasharray="1 0.6"/>
<line x1="345.7" y1="474.5" x2="353.3" y2="474.5" stroke="#555" stroke-width="1"/>
<line x1="345.7" y1="523.5" x2="353.3" y2="523.5" stroke="#555" stroke-width="1"/>
<rect x="342" y="494" width="15.3" height="16.3" fill="#ff3300"/>
<line x1="342" y1="505" x2="357.3" y2="505" stroke="#a02400" stroke-width="1.3"/>
<text x="215.6" y="537.4" font-family='"Liberation Sans", sans-serif' font-weight="bold" font-size="6.5" textLength="22.2" lengthAdjust="spacingAndGlyphs" fill="#1e1e1e" stroke="#1e1e1e" stroke-width="0.12">Normal</text>
<text x="214.9" y="546.1" font-family='"Liberation Sans", sans-serif' font-weight="bold" font-size="6.5" textLength="23.6" lengthAdjust="spacingAndGlyphs" fill="#1e1e1e" stroke="#1e1e1e" stroke-width="0.12">(n=114)</text>
<text x="246.1" y="537.4" font-family='"Liberation Sans", sans-serif' font-weight="bold" font-size="6.5" textLength="22.4" lengthAdjust="spacingAndGlyphs" fill="#1e1e1e" stroke="#1e1e1e" stroke-width="0.12">Stage 1</text>
<text x="245.4" y="546.1" font-family='"Liberation Sans", sans-serif' font-weight="bold" font-size="6.5" textLength="23.8" lengthAdjust="spacingAndGlyphs" fill="#1e1e1e" stroke="#1e1e1e" stroke-width="0.12">(n=183)</text>
<text x="277.6" y="537.4" font-family='"Liberation Sans", sans-serif' font-weight="bold" font-size="6.5" textLength="22.4" lengthAdjust="spacingAndGlyphs" fill="#1e1e1e" stroke="#1e1e1e" stroke-width="0.12">Stage 2</text>
<text x="276.9" y="546.1" font-family='"Liberation Sans", sans-serif' font-weight="bold" font-size="6.5" textLength="23.8" lengthAdjust="spacingAndGlyphs" fill="#1e1e1e" stroke="#1e1e1e" stroke-width="0.12">(n=615)</text>
<text x="309.65" y="537.4" font-family='"Liberation Sans", sans-serif' font-weight="bold" font-size="6.5" textLength="22.5" lengthAdjust="spacingAndGlyphs" fill="#1e1e1e" stroke="#1e1e1e" stroke-width="0.12">Stage 3</text>
<text x="309" y="546.1" font-family='"Liberation Sans", sans-serif' font-weight="bold" font-size="6.5" textLength="23.8" lengthAdjust="spacingAndGlyphs" fill="#1e1e1e" stroke="#1e1e1e" stroke-width="0.12">(n=247)</text>
<text x="341.7" y="537.4" font-family='"Liberation Sans", sans-serif' font-weight="bold" font-size="6.5" textLength="22.8" lengthAdjust="spacingAndGlyphs" fill="#1e1e1e" stroke="#1e1e1e" stroke-width="0.12">Stage 4</text>
<text x="343.2" y="546.1" font-family='"Liberation Sans", sans-serif' font-weight="bold" font-size="6.5" textLength="19.8" lengthAdjust="spacingAndGlyphs" fill="#1e1e1e" stroke="#1e1e1e" stroke-width="0.12">(n=20)</text>
<line x1="225.1" y1="466.5" x2="283.1" y2="466.5" stroke="#9a9a9a" stroke-width="1"/>
<line x1="222.7" y1="475.5" x2="252.2" y2="475.5" stroke="#9a9a9a" stroke-width="1"/>
<text x="258" y="464.2" font-family='"Liberation Sans", sans-serif' font-weight="bold" font-size="7" textLength="27.4" lengthAdjust="spacingAndGlyphs" fill="#1e1e1e" stroke="#1e1e1e" stroke-width="0.12"><tspan font-style="italic">p</tspan> = 0.007</text>
<text x="223" y="473.5" font-family='"Liberation Sans", sans-serif' font-weight="bold" font-size="7" textLength="29.2" lengthAdjust="spacingAndGlyphs" fill="#1e1e1e" stroke="#1e1e1e" stroke-width="0.12"><tspan font-style="italic">p</tspan> = 0.002</text>
</svg>
</body></html>
